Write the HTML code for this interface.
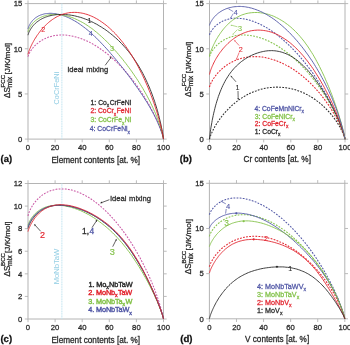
<!DOCTYPE html>
<html><head><meta charset="utf-8"><style>
html,body{margin:0;padding:0;background:#fff;}
body{width:350px;height:345px;overflow:hidden;font-family:"Liberation Sans", sans-serif;}
svg{display:block;will-change:transform;}
</style></head><body>
<svg width="350" height="345" viewBox="0 0 350 345" font-family='"Liberation Sans", sans-serif'><rect x="28" y="3.6" width="135.50" height="135.50" fill="none" stroke="#b4b4b4" stroke-width="1.0"/>
<line x1="28.00" y1="139.10" x2="28.00" y2="142.30" stroke="#b4b4b4" stroke-width="0.9" />
<line x1="28.00" y1="3.60" x2="28.00" y2="0.40" stroke="#b4b4b4" stroke-width="0.9" />
<text x="28.00" y="150.20" font-size="7.7" fill="#2a2a2a" stroke="#2a2a2a" stroke-width="0.27" text-anchor="middle" font-weight="normal" >0</text>
<line x1="55.10" y1="139.10" x2="55.10" y2="142.30" stroke="#b4b4b4" stroke-width="0.9" />
<line x1="55.10" y1="3.60" x2="55.10" y2="0.40" stroke="#b4b4b4" stroke-width="0.9" />
<text x="55.10" y="150.20" font-size="7.7" fill="#2a2a2a" stroke="#2a2a2a" stroke-width="0.27" text-anchor="middle" font-weight="normal" >20</text>
<line x1="82.20" y1="139.10" x2="82.20" y2="142.30" stroke="#b4b4b4" stroke-width="0.9" />
<line x1="82.20" y1="3.60" x2="82.20" y2="0.40" stroke="#b4b4b4" stroke-width="0.9" />
<text x="82.20" y="150.20" font-size="7.7" fill="#2a2a2a" stroke="#2a2a2a" stroke-width="0.27" text-anchor="middle" font-weight="normal" >40</text>
<line x1="109.30" y1="139.10" x2="109.30" y2="142.30" stroke="#b4b4b4" stroke-width="0.9" />
<line x1="109.30" y1="3.60" x2="109.30" y2="0.40" stroke="#b4b4b4" stroke-width="0.9" />
<text x="109.30" y="150.20" font-size="7.7" fill="#2a2a2a" stroke="#2a2a2a" stroke-width="0.27" text-anchor="middle" font-weight="normal" >60</text>
<line x1="136.40" y1="139.10" x2="136.40" y2="142.30" stroke="#b4b4b4" stroke-width="0.9" />
<line x1="136.40" y1="3.60" x2="136.40" y2="0.40" stroke="#b4b4b4" stroke-width="0.9" />
<text x="136.40" y="150.20" font-size="7.7" fill="#2a2a2a" stroke="#2a2a2a" stroke-width="0.27" text-anchor="middle" font-weight="normal" >80</text>
<line x1="163.50" y1="139.10" x2="163.50" y2="142.30" stroke="#b4b4b4" stroke-width="0.9" />
<line x1="163.50" y1="3.60" x2="163.50" y2="0.40" stroke="#b4b4b4" stroke-width="0.9" />
<text x="163.50" y="150.20" font-size="7.7" fill="#2a2a2a" stroke="#2a2a2a" stroke-width="0.27" text-anchor="middle" font-weight="normal" >100</text>
<line x1="24.80" y1="139.10" x2="28.00" y2="139.10" stroke="#b4b4b4" stroke-width="0.9" />
<line x1="163.50" y1="139.10" x2="166.70" y2="139.10" stroke="#b4b4b4" stroke-width="0.9" />
<text x="22.40" y="141.85" font-size="7.7" fill="#2a2a2a" stroke="#2a2a2a" stroke-width="0.27" text-anchor="end" font-weight="normal" >0</text>
<line x1="24.80" y1="93.93" x2="28.00" y2="93.93" stroke="#b4b4b4" stroke-width="0.9" />
<line x1="163.50" y1="93.93" x2="166.70" y2="93.93" stroke="#b4b4b4" stroke-width="0.9" />
<text x="22.40" y="96.68" font-size="7.7" fill="#2a2a2a" stroke="#2a2a2a" stroke-width="0.27" text-anchor="end" font-weight="normal" >5</text>
<line x1="24.80" y1="48.77" x2="28.00" y2="48.77" stroke="#b4b4b4" stroke-width="0.9" />
<line x1="163.50" y1="48.77" x2="166.70" y2="48.77" stroke="#b4b4b4" stroke-width="0.9" />
<text x="22.40" y="51.52" font-size="7.7" fill="#2a2a2a" stroke="#2a2a2a" stroke-width="0.27" text-anchor="end" font-weight="normal" >10</text>
<line x1="24.80" y1="3.60" x2="28.00" y2="3.60" stroke="#b4b4b4" stroke-width="0.9" />
<line x1="163.50" y1="3.60" x2="166.70" y2="3.60" stroke="#b4b4b4" stroke-width="0.9" />
<text x="22.40" y="6.35" font-size="7.7" fill="#2a2a2a" stroke="#2a2a2a" stroke-width="0.27" text-anchor="end" font-weight="normal" >15</text>
<text x="95.75" y="162.60" font-size="8.2" fill="#2a2a2a" stroke="#2a2a2a" stroke-width="0.27" text-anchor="middle" font-weight="normal" >Element contents [at. %]</text>
<line x1="61.88" y1="3.60" x2="61.88" y2="139.10" stroke="#c2e4f0" stroke-width="1.0" stroke-dasharray="1.2 0.5"/>
<text transform="translate(59.20,104.50) rotate(-90)" font-size="7.4" fill="#98d0e5" stroke="#98d0e5" stroke-width="0.05">CoCrFeNi</text>
<path d="M28.0,56.6 L28.0,56.5 L28.1,56.3 L28.2,56.0 L28.3,55.6 L28.5,55.1 L28.7,54.6 L28.9,54.1 L29.2,53.5 L29.5,52.9 L29.9,52.2 L30.3,51.6 L30.7,50.9 L31.2,50.2 L31.7,49.5 L32.2,48.8 L32.8,48.0 L33.4,47.3 L34.0,46.6 L34.7,45.9 L35.4,45.2 L36.2,44.5 L36.9,43.8 L37.8,43.1 L38.6,42.4 L39.5,41.8 L40.4,41.2 L41.3,40.6 L42.3,40.0 L43.3,39.4 L44.3,38.9 L45.4,38.4 L46.5,37.9 L47.6,37.5 L48.7,37.1 L49.9,36.7 L51.1,36.4 L52.3,36.1 L53.5,35.8 L54.8,35.6 L56.1,35.4 L57.4,35.2 L58.7,35.1 L60.0,35.0 L61.4,35.0 L62.8,35.0 L64.2,35.0 L65.6,35.1 L67.1,35.3 L68.5,35.4 L70.0,35.7 L71.5,35.9 L73.0,36.3 L74.5,36.6 L76.0,37.0 L77.6,37.5 L79.1,37.9 L80.7,38.5 L82.2,39.1 L83.8,39.7 L85.4,40.4 L87.0,41.1 L88.6,41.8 L90.2,42.6 L91.8,43.5 L93.4,44.4 L94.9,45.3 L96.6,46.3 L98.1,47.3 L99.7,48.4 L101.3,49.5 L102.9,50.6 L104.5,51.8 L106.1,53.0 L107.7,54.2 L109.3,55.5 L110.8,56.8 L112.4,58.2 L113.9,59.6 L115.5,61.0 L117.0,62.5 L118.5,64.0 L120.0,65.5 L121.5,67.0 L123.0,68.6 L124.4,70.2 L125.9,71.8 L127.3,73.5 L128.7,75.1 L130.1,76.8 L131.5,78.5 L132.8,80.2 L134.1,82.0 L135.4,83.7 L136.7,85.5 L138.0,87.2 L139.2,89.0 L140.4,90.8 L141.6,92.6 L142.8,94.4 L143.9,96.2 L145.0,98.0 L146.1,99.8 L147.2,101.6 L148.2,103.3 L149.2,105.1 L150.2,106.9 L151.1,108.6 L152.0,110.3 L152.9,112.0 L153.7,113.7 L154.6,115.4 L155.3,117.0 L156.1,118.6 L156.8,120.2 L157.5,121.8 L158.1,123.3 L158.7,124.7 L159.3,126.1 L159.8,127.5 L160.3,128.8 L160.8,130.1 L161.2,131.3 L161.6,132.5 L162.0,133.5 L162.3,134.5 L162.6,135.5 L162.8,136.3 L163.0,137.1 L163.2,137.7 L163.3,138.3 L163.4,138.7 L163.5,139.0 L163.5,139.1" fill="none" stroke="#ca5aa6" stroke-width="1.05" stroke-dasharray="1.8 1.3"/>
<path d="M28.0,29.0 L28.0,28.9 L28.1,28.6 L28.2,28.3 L28.3,27.8 L28.5,27.3 L28.7,26.8 L28.9,26.2 L29.2,25.6 L29.5,24.9 L29.9,24.3 L30.3,23.6 L30.7,22.9 L31.2,22.3 L31.7,21.6 L32.2,20.9 L32.8,20.3 L33.4,19.7 L34.0,19.1 L34.7,18.5 L35.4,17.9 L36.2,17.4 L36.9,16.9 L37.8,16.4 L38.6,15.9 L39.5,15.5 L40.4,15.1 L41.3,14.8 L42.3,14.5 L43.3,14.2 L44.3,13.9 L45.4,13.7 L46.5,13.6 L47.6,13.5 L48.7,13.4 L49.9,13.3 L51.1,13.3 L52.3,13.4 L53.5,13.5 L54.8,13.6 L56.1,13.8 L57.4,14.1 L58.7,14.3 L60.0,14.7 L61.4,15.0 L62.8,15.5 L64.2,16.0 L65.6,16.5 L67.1,17.1 L68.5,17.7 L70.0,18.4 L71.5,19.2 L73.0,20.0 L74.5,20.8 L76.0,21.7 L77.6,22.7 L79.1,23.7 L80.7,24.8 L82.2,25.9 L83.8,27.1 L85.4,28.3 L87.0,29.6 L88.6,30.9 L90.2,32.3 L91.8,33.7 L93.4,35.2 L94.9,36.7 L96.6,38.2 L98.1,39.8 L99.7,41.4 L101.3,43.1 L102.9,44.8 L104.5,46.5 L106.1,48.2 L107.7,50.0 L109.3,51.8 L110.8,53.6 L112.4,55.4 L113.9,57.2 L115.5,59.1 L117.0,60.9 L118.5,62.8 L120.0,64.7 L121.5,66.5 L123.0,68.4 L124.4,70.3 L125.9,72.2 L127.3,74.0 L128.7,75.9 L130.1,77.7 L131.5,79.6 L132.8,81.4 L134.1,83.3 L135.4,85.1 L136.7,86.9 L138.0,88.7 L139.2,90.5 L140.4,92.3 L141.6,94.0 L142.8,95.8 L143.9,97.6 L145.0,99.3 L146.1,101.0 L147.2,102.7 L148.2,104.4 L149.2,106.1 L150.2,107.8 L151.1,109.4 L152.0,111.1 L152.9,112.7 L153.7,114.3 L154.6,115.9 L155.3,117.4 L156.1,118.9 L156.8,120.5 L157.5,121.9 L158.1,123.4 L158.7,124.8 L159.3,126.2 L159.8,127.5 L160.3,128.8 L160.8,130.1 L161.2,131.3 L161.6,132.4 L162.0,133.5 L162.3,134.5 L162.6,135.4 L162.8,136.3 L163.0,137.0 L163.2,137.7 L163.3,138.3 L163.4,138.7 L163.5,139.0 L163.5,139.1" fill="none" stroke="#5157a6" stroke-width="0.9"/>
<path d="M28.0,32.0 L28.0,31.9 L28.1,31.6 L28.2,31.3 L28.3,30.8 L28.5,30.3 L28.7,29.8 L28.9,29.2 L29.2,28.6 L29.5,27.9 L29.9,27.3 L30.3,26.6 L30.7,25.9 L31.2,25.2 L31.7,24.5 L32.2,23.9 L32.8,23.2 L33.4,22.5 L34.0,21.9 L34.7,21.3 L35.4,20.7 L36.2,20.1 L36.9,19.5 L37.8,19.0 L38.6,18.5 L39.5,18.0 L40.4,17.5 L41.3,17.1 L42.3,16.7 L43.3,16.3 L44.3,16.0 L45.4,15.7 L46.5,15.4 L47.6,15.1 L48.7,14.9 L49.9,14.7 L51.1,14.6 L52.3,14.5 L53.5,14.4 L54.8,14.4 L56.1,14.4 L57.4,14.5 L58.7,14.6 L60.0,14.7 L61.4,14.9 L62.8,15.1 L64.2,15.4 L65.6,15.7 L67.1,16.0 L68.5,16.4 L70.0,16.9 L71.5,17.4 L73.0,17.9 L74.5,18.5 L76.0,19.2 L77.6,19.9 L79.1,20.7 L80.7,21.5 L82.2,22.3 L83.8,23.2 L85.4,24.2 L87.0,25.2 L88.6,26.3 L90.2,27.4 L91.8,28.5 L93.4,29.7 L94.9,31.0 L96.6,32.3 L98.1,33.6 L99.7,35.0 L101.3,36.4 L102.9,37.9 L104.5,39.4 L106.1,41.0 L107.7,42.5 L109.3,44.1 L110.8,45.8 L112.4,47.5 L113.9,49.2 L115.5,50.9 L117.0,52.6 L118.5,54.4 L120.0,56.2 L121.5,58.0 L123.0,59.8 L124.4,61.7 L125.9,63.5 L127.3,65.4 L128.7,67.3 L130.1,69.2 L131.5,71.1 L132.8,73.0 L134.1,74.9 L135.4,76.8 L136.7,78.7 L138.0,80.7 L139.2,82.6 L140.4,84.5 L141.6,86.5 L142.8,88.4 L143.9,90.4 L145.0,92.3 L146.1,94.2 L147.2,96.2 L148.2,98.1 L149.2,100.0 L150.2,101.9 L151.1,103.9 L152.0,105.8 L152.9,107.6 L153.7,109.5 L154.6,111.4 L155.3,113.2 L156.1,115.0 L156.8,116.8 L157.5,118.6 L158.1,120.3 L158.7,122.0 L159.3,123.6 L159.8,125.2 L160.3,126.8 L160.8,128.3 L161.2,129.7 L161.6,131.1 L162.0,132.4 L162.3,133.6 L162.6,134.7 L162.8,135.7 L163.0,136.6 L163.2,137.4 L163.3,138.1 L163.4,138.6 L163.5,139.0 L163.5,139.1" fill="none" stroke="#84c24a" stroke-width="0.9"/>
<path d="M28.0,35.2 L28.0,35.1 L28.1,34.9 L28.2,34.5 L28.3,34.1 L28.5,33.6 L28.7,33.0 L28.9,32.4 L29.2,31.8 L29.5,31.1 L29.9,30.4 L30.3,29.7 L30.7,29.0 L31.2,28.3 L31.7,27.5 L32.2,26.8 L32.8,26.1 L33.4,25.4 L34.0,24.7 L34.7,24.0 L35.4,23.3 L36.2,22.6 L36.9,22.0 L37.8,21.4 L38.6,20.8 L39.5,20.2 L40.4,19.6 L41.3,19.1 L42.3,18.6 L43.3,18.1 L44.3,17.7 L45.4,17.2 L46.5,16.8 L47.6,16.5 L48.7,16.1 L49.9,15.8 L51.1,15.5 L52.3,15.3 L53.5,15.1 L54.8,14.9 L56.1,14.7 L57.4,14.6 L58.7,14.5 L60.0,14.5 L61.4,14.4 L62.8,14.5 L64.2,14.5 L65.6,14.6 L67.1,14.7 L68.5,14.9 L70.0,15.0 L71.5,15.3 L73.0,15.5 L74.5,15.8 L76.0,16.2 L77.6,16.6 L79.1,17.0 L80.7,17.4 L82.2,17.9 L83.8,18.5 L85.4,19.1 L87.0,19.7 L88.6,20.3 L90.2,21.0 L91.8,21.8 L93.4,22.5 L94.9,23.4 L96.6,24.2 L98.1,25.1 L99.7,26.1 L101.3,27.0 L102.9,28.1 L104.5,29.1 L106.1,30.2 L107.7,31.4 L109.3,32.6 L110.8,33.8 L112.4,35.1 L113.9,36.4 L115.5,37.7 L117.0,39.1 L118.5,40.5 L120.0,42.0 L121.5,43.5 L123.0,45.1 L124.4,46.7 L125.9,48.3 L127.3,50.0 L128.7,51.7 L130.1,53.5 L131.5,55.3 L132.8,57.2 L134.1,59.0 L135.4,61.0 L136.7,62.9 L138.0,65.0 L139.2,67.0 L140.4,69.1 L141.6,71.2 L142.8,73.4 L143.9,75.6 L145.0,77.8 L146.1,80.1 L147.2,82.4 L148.2,84.7 L149.2,87.0 L150.2,89.4 L151.1,91.7 L152.0,94.1 L152.9,96.5 L153.7,98.9 L154.6,101.3 L155.3,103.7 L156.1,106.1 L156.8,108.5 L157.5,110.8 L158.1,113.2 L158.7,115.4 L159.3,117.7 L159.8,119.9 L160.3,122.0 L160.8,124.0 L161.2,126.0 L161.6,127.9 L162.0,129.7 L162.3,131.4 L162.6,132.9 L162.8,134.4 L163.0,135.6 L163.2,136.8 L163.3,137.7 L163.4,138.4 L163.5,138.9 L163.5,139.1" fill="none" stroke="#2b2b2b" stroke-width="0.9"/>
<path d="M28.0,54.4 L28.0,54.2 L28.1,54.0 L28.2,53.6 L28.3,53.1 L28.5,52.6 L28.7,51.9 L28.9,51.2 L29.2,50.5 L29.5,49.6 L29.9,48.7 L30.3,47.8 L30.7,46.8 L31.2,45.8 L31.7,44.8 L32.2,43.7 L32.8,42.6 L33.4,41.5 L34.0,40.4 L34.7,39.2 L35.4,38.1 L36.2,36.9 L36.9,35.7 L37.8,34.5 L38.6,33.4 L39.5,32.2 L40.4,31.0 L41.3,29.9 L42.3,28.7 L43.3,27.6 L44.3,26.5 L45.4,25.4 L46.5,24.4 L47.6,23.4 L48.7,22.4 L49.9,21.4 L51.1,20.5 L52.3,19.6 L53.5,18.8 L54.8,18.0 L56.1,17.2 L57.4,16.5 L58.7,15.9 L60.0,15.3 L61.4,14.7 L62.8,14.2 L64.2,13.8 L65.6,13.4 L67.1,13.1 L68.5,12.8 L70.0,12.6 L71.5,12.5 L73.0,12.4 L74.5,12.4 L76.0,12.4 L77.6,12.5 L79.1,12.7 L80.7,12.9 L82.2,13.2 L83.8,13.5 L85.4,14.0 L87.0,14.4 L88.6,15.0 L90.2,15.6 L91.8,16.3 L93.4,17.0 L94.9,17.8 L96.6,18.7 L98.1,19.6 L99.7,20.6 L101.3,21.7 L102.9,22.8 L104.5,24.0 L106.1,25.2 L107.7,26.5 L109.3,27.9 L110.8,29.3 L112.4,30.8 L113.9,32.3 L115.5,33.9 L117.0,35.6 L118.5,37.3 L120.0,39.0 L121.5,40.9 L123.0,42.7 L124.4,44.6 L125.9,46.6 L127.3,48.6 L128.7,50.7 L130.1,52.8 L131.5,55.0 L132.8,57.1 L134.1,59.4 L135.4,61.6 L136.7,63.9 L138.0,66.3 L139.2,68.6 L140.4,71.0 L141.6,73.4 L142.8,75.8 L143.9,78.2 L145.0,80.7 L146.1,83.1 L147.2,85.6 L148.2,88.0 L149.2,90.5 L150.2,92.9 L151.1,95.4 L152.0,97.8 L152.9,100.2 L153.7,102.6 L154.6,105.0 L155.3,107.3 L156.1,109.6 L156.8,111.8 L157.5,114.0 L158.1,116.2 L158.7,118.3 L159.3,120.3 L159.8,122.3 L160.3,124.2 L160.8,126.1 L161.2,127.8 L161.6,129.5 L162.0,131.0 L162.3,132.5 L162.6,133.8 L162.8,135.1 L163.0,136.2 L163.2,137.1 L163.3,137.9 L163.4,138.5 L163.5,138.9 L163.5,139.1" fill="none" stroke="#e2252f" stroke-width="0.9"/>
<text x="67.50" y="71.90" font-size="7.6" fill="#2a2a2a" stroke="#2a2a2a" stroke-width="0.27" text-anchor="start" font-weight="normal" word-spacing="0.6">ideal mixing</text>
<line x1="105.20" y1="65.30" x2="110.30" y2="58.37" stroke="#231f20" stroke-width="0.7"/>
<path d="M111.60,56.60 L111.02,58.91 L109.57,57.84 Z" fill="#231f20"/>
<text x="89.50" y="23.20" font-size="7.2" fill="#2b2b2b" stroke="#2b2b2b" stroke-width="0.1" text-anchor="middle" font-weight="normal" >1</text>
<text x="43.20" y="32.00" font-size="7.2" fill="#e2252f" stroke="#e2252f" stroke-width="0.1" text-anchor="middle" font-weight="normal" >2</text>
<text x="112.00" y="50.60" font-size="7.2" fill="#84c24a" stroke="#84c24a" stroke-width="0.1" text-anchor="middle" font-weight="normal" >3</text>
<text x="90.80" y="36.20" font-size="7.2" fill="#5157a6" stroke="#5157a6" stroke-width="0.1" text-anchor="middle" font-weight="normal" >4</text>
<text x="90.6" y="104.5" font-size="6.8" fill="#2b2b2b" stroke="#2b2b2b" stroke-width="0.27" letter-spacing="0" font-weight="normal"><tspan>1: Co</tspan><tspan font-size="4.90" dy="2.2">x</tspan><tspan dy="-2.2" dx="0.35">CrFeNi</tspan></text>
<text x="90.4" y="113.4" font-size="6.8" fill="#e2252f" stroke="#e2252f" stroke-width="0.27" letter-spacing="0" font-weight="normal"><tspan>2: CoCr</tspan><tspan font-size="4.90" dy="2.2">x</tspan><tspan dy="-2.2" dx="0.35">FeNi</tspan></text>
<text x="90.6" y="122.4" font-size="6.8" fill="#84c24a" stroke="#84c24a" stroke-width="0.27" letter-spacing="0" font-weight="normal"><tspan>3: CoCrFe</tspan><tspan font-size="4.90" dy="2.2">x</tspan><tspan dy="-2.2" dx="0.35">Ni</tspan></text>
<text x="89.8" y="131.3" font-size="6.8" fill="#5157a6" stroke="#5157a6" stroke-width="0.27" letter-spacing="0" font-weight="normal"><tspan>4: CoCrFeNi</tspan><tspan font-size="4.90" dy="2.2">x</tspan></text>
<text transform="translate(9.80,98.00) rotate(-90)" font-size="8.2" fill="#2a2a2a" stroke="#2a2a2a" stroke-width="0.27">ΔS</text>
<text transform="translate(5.20,87.40) rotate(-90)" font-size="6.1" fill="#2a2a2a" stroke="#2a2a2a" stroke-width="0.27">FCC</text>
<text transform="translate(11.90,87.40) rotate(-90)" font-size="6.8" fill="#2a2a2a" stroke="#2a2a2a" stroke-width="0.27">mix</text>
<text transform="translate(9.80,74.40) rotate(-90)" font-size="8.1" fill="#2a2a2a" stroke="#2a2a2a" stroke-width="0.27">[J/K/mol]</text>
<text x="0.60" y="162.00" font-size="9.4" fill="#111" stroke="#111" stroke-width="0.27" text-anchor="start" font-weight="bold" >(a)</text>
<rect x="209.5" y="3.6" width="135.50" height="135.60" fill="none" stroke="#b4b4b4" stroke-width="1.0"/>
<line x1="209.50" y1="139.20" x2="209.50" y2="142.40" stroke="#b4b4b4" stroke-width="0.9" />
<line x1="209.50" y1="3.60" x2="209.50" y2="0.40" stroke="#b4b4b4" stroke-width="0.9" />
<text x="209.50" y="150.30" font-size="7.7" fill="#2a2a2a" stroke="#2a2a2a" stroke-width="0.27" text-anchor="middle" font-weight="normal" >0</text>
<line x1="236.60" y1="139.20" x2="236.60" y2="142.40" stroke="#b4b4b4" stroke-width="0.9" />
<line x1="236.60" y1="3.60" x2="236.60" y2="0.40" stroke="#b4b4b4" stroke-width="0.9" />
<text x="236.60" y="150.30" font-size="7.7" fill="#2a2a2a" stroke="#2a2a2a" stroke-width="0.27" text-anchor="middle" font-weight="normal" >20</text>
<line x1="263.70" y1="139.20" x2="263.70" y2="142.40" stroke="#b4b4b4" stroke-width="0.9" />
<line x1="263.70" y1="3.60" x2="263.70" y2="0.40" stroke="#b4b4b4" stroke-width="0.9" />
<text x="263.70" y="150.30" font-size="7.7" fill="#2a2a2a" stroke="#2a2a2a" stroke-width="0.27" text-anchor="middle" font-weight="normal" >40</text>
<line x1="290.80" y1="139.20" x2="290.80" y2="142.40" stroke="#b4b4b4" stroke-width="0.9" />
<line x1="290.80" y1="3.60" x2="290.80" y2="0.40" stroke="#b4b4b4" stroke-width="0.9" />
<text x="290.80" y="150.30" font-size="7.7" fill="#2a2a2a" stroke="#2a2a2a" stroke-width="0.27" text-anchor="middle" font-weight="normal" >60</text>
<line x1="317.90" y1="139.20" x2="317.90" y2="142.40" stroke="#b4b4b4" stroke-width="0.9" />
<line x1="317.90" y1="3.60" x2="317.90" y2="0.40" stroke="#b4b4b4" stroke-width="0.9" />
<text x="317.90" y="150.30" font-size="7.7" fill="#2a2a2a" stroke="#2a2a2a" stroke-width="0.27" text-anchor="middle" font-weight="normal" >80</text>
<line x1="345.00" y1="139.20" x2="345.00" y2="142.40" stroke="#b4b4b4" stroke-width="0.9" />
<line x1="345.00" y1="3.60" x2="345.00" y2="0.40" stroke="#b4b4b4" stroke-width="0.9" />
<text x="345.00" y="150.30" font-size="7.7" fill="#2a2a2a" stroke="#2a2a2a" stroke-width="0.27" text-anchor="middle" font-weight="normal" >100</text>
<line x1="206.30" y1="139.20" x2="209.50" y2="139.20" stroke="#b4b4b4" stroke-width="0.9" />
<line x1="345.00" y1="139.20" x2="348.20" y2="139.20" stroke="#b4b4b4" stroke-width="0.9" />
<text x="203.90" y="141.95" font-size="7.7" fill="#2a2a2a" stroke="#2a2a2a" stroke-width="0.27" text-anchor="end" font-weight="normal" >0</text>
<line x1="206.30" y1="94.00" x2="209.50" y2="94.00" stroke="#b4b4b4" stroke-width="0.9" />
<line x1="345.00" y1="94.00" x2="348.20" y2="94.00" stroke="#b4b4b4" stroke-width="0.9" />
<text x="203.90" y="96.75" font-size="7.7" fill="#2a2a2a" stroke="#2a2a2a" stroke-width="0.27" text-anchor="end" font-weight="normal" >5</text>
<line x1="206.30" y1="48.80" x2="209.50" y2="48.80" stroke="#b4b4b4" stroke-width="0.9" />
<line x1="345.00" y1="48.80" x2="348.20" y2="48.80" stroke="#b4b4b4" stroke-width="0.9" />
<text x="203.90" y="51.55" font-size="7.7" fill="#2a2a2a" stroke="#2a2a2a" stroke-width="0.27" text-anchor="end" font-weight="normal" >10</text>
<line x1="206.30" y1="3.60" x2="209.50" y2="3.60" stroke="#b4b4b4" stroke-width="0.9" />
<line x1="345.00" y1="3.60" x2="348.20" y2="3.60" stroke="#b4b4b4" stroke-width="0.9" />
<text x="203.90" y="6.35" font-size="7.7" fill="#2a2a2a" stroke="#2a2a2a" stroke-width="0.27" text-anchor="end" font-weight="normal" >15</text>
<text x="277.25" y="161.50" font-size="8.2" fill="#2a2a2a" stroke="#2a2a2a" stroke-width="0.27" text-anchor="middle" font-weight="normal" >Cr contents [at. %]</text>
<path d="M209.5,139.2 L209.5,139.1 L209.6,138.8 L209.7,138.5 L209.8,138.0 L210.0,137.5 L210.2,136.8 L210.4,136.1 L210.7,135.4 L211.0,134.6 L211.4,133.7 L211.8,132.8 L212.2,131.8 L212.7,130.9 L213.2,129.8 L213.7,128.8 L214.3,127.7 L214.9,126.6 L215.5,125.5 L216.2,124.4 L216.9,123.2 L217.7,122.1 L218.4,120.9 L219.3,119.8 L220.1,118.6 L221.0,117.4 L221.9,116.2 L222.8,115.1 L223.8,113.9 L224.8,112.7 L225.8,111.6 L226.9,110.4 L228.0,109.3 L229.1,108.2 L230.2,107.1 L231.4,106.0 L232.6,104.9 L233.8,103.9 L235.0,102.8 L236.3,101.8 L237.6,100.9 L238.9,99.9 L240.2,99.0 L241.5,98.1 L242.9,97.2 L244.3,96.4 L245.7,95.6 L247.1,94.8 L248.6,94.1 L250.0,93.3 L251.5,92.7 L253.0,92.0 L254.5,91.4 L256.0,90.9 L257.5,90.3 L259.1,89.8 L260.6,89.4 L262.2,89.0 L263.7,88.6 L265.3,88.3 L266.9,88.0 L268.5,87.7 L270.1,87.5 L271.7,87.4 L273.3,87.2 L274.9,87.2 L276.4,87.1 L278.1,87.1 L279.6,87.2 L281.2,87.2 L282.8,87.4 L284.4,87.5 L286.0,87.7 L287.6,88.0 L289.2,88.3 L290.8,88.6 L292.3,89.0 L293.9,89.4 L295.4,89.8 L297.0,90.3 L298.5,90.9 L300.0,91.4 L301.5,92.0 L303.0,92.7 L304.5,93.3 L305.9,94.1 L307.4,94.8 L308.8,95.6 L310.2,96.4 L311.6,97.2 L313.0,98.1 L314.3,99.0 L315.6,99.9 L316.9,100.9 L318.2,101.8 L319.5,102.8 L320.7,103.9 L321.9,104.9 L323.1,106.0 L324.3,107.1 L325.4,108.2 L326.5,109.3 L327.6,110.4 L328.7,111.6 L329.7,112.7 L330.7,113.9 L331.7,115.1 L332.6,116.2 L333.5,117.4 L334.4,118.6 L335.2,119.8 L336.1,120.9 L336.8,122.1 L337.6,123.2 L338.3,124.4 L339.0,125.5 L339.6,126.6 L340.2,127.7 L340.8,128.8 L341.3,129.8 L341.8,130.9 L342.3,131.8 L342.7,132.8 L343.1,133.7 L343.5,134.6 L343.8,135.4 L344.1,136.1 L344.3,136.8 L344.5,137.5 L344.7,138.0 L344.8,138.5 L344.9,138.8 L345.0,139.1 L345.0,139.2" fill="none" stroke="#2b2b2b" stroke-width="1.05" stroke-dasharray="1.8 1.3"/>
<path d="M209.5,87.1 L209.5,87.0 L209.6,86.8 L209.7,86.4 L209.8,86.0 L210.0,85.5 L210.2,85.0 L210.4,84.4 L210.7,83.7 L211.0,83.1 L211.4,82.3 L211.8,81.6 L212.2,80.8 L212.7,80.0 L213.2,79.2 L213.7,78.3 L214.3,77.5 L214.9,76.6 L215.5,75.7 L216.2,74.9 L216.9,74.0 L217.7,73.1 L218.4,72.3 L219.3,71.4 L220.1,70.6 L221.0,69.7 L221.9,68.9 L222.8,68.1 L223.8,67.3 L224.8,66.5 L225.8,65.7 L226.9,65.0 L228.0,64.3 L229.1,63.6 L230.2,62.9 L231.4,62.3 L232.6,61.7 L233.8,61.1 L235.0,60.6 L236.3,60.0 L237.6,59.6 L238.9,59.1 L240.2,58.7 L241.5,58.3 L242.9,58.0 L244.3,57.7 L245.7,57.4 L247.1,57.2 L248.6,57.0 L250.0,56.8 L251.5,56.7 L253.0,56.7 L254.5,56.6 L256.0,56.6 L257.5,56.7 L259.1,56.8 L260.6,56.9 L262.2,57.1 L263.7,57.4 L265.3,57.6 L266.9,58.0 L268.5,58.3 L270.1,58.7 L271.7,59.2 L273.3,59.6 L274.9,60.2 L276.4,60.8 L278.1,61.4 L279.6,62.0 L281.2,62.7 L282.8,63.5 L284.4,64.2 L286.0,65.1 L287.6,65.9 L289.2,66.8 L290.8,67.8 L292.3,68.7 L293.9,69.7 L295.4,70.8 L297.0,71.9 L298.5,73.0 L300.0,74.1 L301.5,75.3 L303.0,76.5 L304.5,77.8 L305.9,79.0 L307.4,80.3 L308.8,81.6 L310.2,83.0 L311.6,84.4 L313.0,85.8 L314.3,87.2 L315.6,88.6 L316.9,90.1 L318.2,91.6 L319.5,93.0 L320.7,94.5 L321.9,96.1 L323.1,97.6 L324.3,99.1 L325.4,100.7 L326.5,102.2 L327.6,103.7 L328.7,105.3 L329.7,106.8 L330.7,108.4 L331.7,109.9 L332.6,111.5 L333.5,113.0 L334.4,114.5 L335.2,116.0 L336.1,117.5 L336.8,118.9 L337.6,120.4 L338.3,121.8 L339.0,123.2 L339.6,124.6 L340.2,125.9 L340.8,127.2 L341.3,128.4 L341.8,129.6 L342.3,130.8 L342.7,131.9 L343.1,133.0 L343.5,134.0 L343.8,134.9 L344.1,135.8 L344.3,136.6 L344.5,137.3 L344.7,137.9 L344.8,138.4 L344.9,138.8 L345.0,139.1 L345.0,139.2" fill="none" stroke="#e2252f" stroke-width="1.05" stroke-dasharray="1.8 1.3"/>
<path d="M209.5,56.6 L209.5,56.5 L209.6,56.3 L209.7,56.0 L209.8,55.6 L210.0,55.2 L210.2,54.7 L210.4,54.1 L210.7,53.5 L211.0,52.9 L211.4,52.3 L211.8,51.6 L212.2,50.9 L212.7,50.2 L213.2,49.5 L213.7,48.8 L214.3,48.1 L214.9,47.3 L215.5,46.6 L216.2,45.9 L216.9,45.2 L217.7,44.5 L218.4,43.8 L219.3,43.1 L220.1,42.5 L221.0,41.8 L221.9,41.2 L222.8,40.6 L223.8,40.0 L224.8,39.5 L225.8,38.9 L226.9,38.4 L228.0,38.0 L229.1,37.5 L230.2,37.1 L231.4,36.7 L232.6,36.4 L233.8,36.1 L235.0,35.8 L236.3,35.6 L237.6,35.4 L238.9,35.2 L240.2,35.1 L241.5,35.0 L242.9,35.0 L244.3,35.0 L245.7,35.1 L247.1,35.2 L248.6,35.3 L250.0,35.5 L251.5,35.7 L253.0,36.0 L254.5,36.3 L256.0,36.6 L257.5,37.0 L259.1,37.5 L260.6,38.0 L262.2,38.5 L263.7,39.1 L265.3,39.7 L266.9,40.4 L268.5,41.1 L270.1,41.9 L271.7,42.7 L273.3,43.5 L274.9,44.4 L276.4,45.3 L278.1,46.3 L279.6,47.3 L281.2,48.4 L282.8,49.5 L284.4,50.6 L286.0,51.8 L287.6,53.0 L289.2,54.3 L290.8,55.6 L292.3,56.9 L293.9,58.2 L295.4,59.6 L297.0,61.1 L298.5,62.5 L300.0,64.0 L301.5,65.5 L303.0,67.1 L304.5,68.6 L305.9,70.2 L307.4,71.9 L308.8,73.5 L310.2,75.2 L311.6,76.9 L313.0,78.6 L314.3,80.3 L315.6,82.0 L316.9,83.8 L318.2,85.5 L319.5,87.3 L320.7,89.1 L321.9,90.9 L323.1,92.7 L324.3,94.5 L325.4,96.3 L326.5,98.0 L327.6,99.8 L328.7,101.6 L329.7,103.4 L330.7,105.2 L331.7,106.9 L332.6,108.7 L333.5,110.4 L334.4,112.1 L335.2,113.8 L336.1,115.5 L336.8,117.1 L337.6,118.7 L338.3,120.3 L339.0,121.8 L339.6,123.3 L340.2,124.8 L340.8,126.2 L341.3,127.6 L341.8,128.9 L342.3,130.2 L342.7,131.4 L343.1,132.6 L343.5,133.6 L343.8,134.6 L344.1,135.6 L344.3,136.4 L344.5,137.2 L344.7,137.8 L344.8,138.4 L344.9,138.8 L345.0,139.1 L345.0,139.2" fill="none" stroke="#84c24a" stroke-width="1.05" stroke-dasharray="1.8 1.3"/>
<path d="M209.5,35.0 L209.5,34.9 L209.6,34.7 L209.7,34.4 L209.8,34.0 L210.0,33.6 L210.2,33.2 L210.4,32.7 L210.7,32.1 L211.0,31.5 L211.4,31.0 L211.8,30.4 L212.2,29.7 L212.7,29.1 L213.2,28.5 L213.7,27.8 L214.3,27.2 L214.9,26.6 L215.5,26.0 L216.2,25.4 L216.9,24.8 L217.7,24.2 L218.4,23.6 L219.3,23.1 L220.1,22.5 L221.0,22.0 L221.9,21.6 L222.8,21.1 L223.8,20.7 L224.8,20.3 L225.8,19.9 L226.9,19.6 L228.0,19.3 L229.1,19.0 L230.2,18.8 L231.4,18.6 L232.6,18.5 L233.8,18.3 L235.0,18.3 L236.3,18.2 L237.6,18.2 L238.9,18.3 L240.2,18.4 L241.5,18.5 L242.9,18.7 L244.3,18.9 L245.7,19.2 L247.1,19.5 L248.6,19.9 L250.0,20.3 L251.5,20.8 L253.0,21.3 L254.5,21.8 L256.0,22.4 L257.5,23.1 L259.1,23.8 L260.6,24.5 L262.2,25.3 L263.7,26.1 L265.3,27.0 L266.9,27.9 L268.5,28.9 L270.1,29.9 L271.7,31.0 L273.3,32.1 L274.9,33.2 L276.4,34.4 L278.1,35.6 L279.6,36.9 L281.2,38.2 L282.8,39.6 L284.4,41.0 L286.0,42.4 L287.6,43.9 L289.2,45.4 L290.8,46.9 L292.3,48.5 L293.9,50.1 L295.4,51.7 L297.0,53.4 L298.5,55.1 L300.0,56.8 L301.5,58.6 L303.0,60.4 L304.5,62.2 L305.9,64.0 L307.4,65.9 L308.8,67.7 L310.2,69.6 L311.6,71.5 L313.0,73.4 L314.3,75.4 L315.6,77.3 L316.9,79.3 L318.2,81.3 L319.5,83.2 L320.7,85.2 L321.9,87.2 L323.1,89.2 L324.3,91.2 L325.4,93.1 L326.5,95.1 L327.6,97.1 L328.7,99.0 L329.7,101.0 L330.7,102.9 L331.7,104.8 L332.6,106.7 L333.5,108.6 L334.4,110.4 L335.2,112.3 L336.1,114.0 L336.8,115.8 L337.6,117.5 L338.3,119.2 L339.0,120.9 L339.6,122.5 L340.2,124.0 L340.8,125.6 L341.3,127.0 L341.8,128.4 L342.3,129.8 L342.7,131.0 L343.1,132.3 L343.5,133.4 L343.8,134.4 L344.1,135.4 L344.3,136.3 L344.5,137.1 L344.7,137.8 L344.8,138.3 L344.9,138.8 L345.0,139.1 L345.0,139.2" fill="none" stroke="#5157a6" stroke-width="1.05" stroke-dasharray="1.8 1.3"/>
<path d="M209.5,139.2 L209.5,138.9 L209.6,138.3 L209.7,137.3 L209.8,136.0 L210.0,134.6 L210.2,133.0 L210.4,131.1 L210.7,129.2 L211.0,127.1 L211.4,125.0 L211.8,122.7 L212.2,120.4 L212.7,118.0 L213.2,115.6 L213.7,113.2 L214.3,110.8 L214.9,108.3 L215.5,105.9 L216.2,103.5 L216.9,101.1 L217.7,98.7 L218.4,96.4 L219.3,94.1 L220.1,91.9 L221.0,89.7 L221.9,87.6 L222.8,85.6 L223.8,83.6 L224.8,81.7 L225.8,79.8 L226.9,78.1 L228.0,76.3 L229.1,74.7 L230.2,73.1 L231.4,71.6 L232.6,70.1 L233.8,68.7 L235.0,67.4 L236.3,66.1 L237.6,64.9 L238.9,63.7 L240.2,62.6 L241.5,61.5 L242.9,60.5 L244.3,59.5 L245.7,58.6 L247.1,57.7 L248.6,56.9 L250.0,56.1 L251.5,55.4 L253.0,54.7 L254.5,54.1 L256.0,53.5 L257.5,53.0 L259.1,52.5 L260.6,52.1 L262.2,51.7 L263.7,51.4 L265.3,51.1 L266.9,50.9 L268.5,50.7 L270.1,50.7 L271.7,50.6 L273.3,50.7 L274.9,50.8 L276.4,51.0 L278.1,51.3 L279.6,51.6 L281.2,52.0 L282.8,52.5 L284.4,53.1 L286.0,53.7 L287.6,54.4 L289.2,55.2 L290.8,56.1 L292.3,57.0 L293.9,58.0 L295.4,59.1 L297.0,60.2 L298.5,61.4 L300.0,62.7 L301.5,64.1 L303.0,65.4 L304.5,66.9 L305.9,68.4 L307.4,69.9 L308.8,71.5 L310.2,73.2 L311.6,74.8 L313.0,76.5 L314.3,78.3 L315.6,80.0 L316.9,81.8 L318.2,83.6 L319.5,85.5 L320.7,87.3 L321.9,89.1 L323.1,91.0 L324.3,92.9 L325.4,94.7 L326.5,96.6 L327.6,98.4 L328.7,100.3 L329.7,102.1 L330.7,103.9 L331.7,105.7 L332.6,107.5 L333.5,109.3 L334.4,111.0 L335.2,112.8 L336.1,114.5 L336.8,116.2 L337.6,117.8 L338.3,119.4 L339.0,121.0 L339.6,122.5 L340.2,124.0 L340.8,125.5 L341.3,126.9 L341.8,128.3 L342.3,129.6 L342.7,130.8 L343.1,132.0 L343.5,133.2 L343.8,134.2 L344.1,135.2 L344.3,136.1 L344.5,136.9 L344.7,137.7 L344.8,138.3 L344.9,138.7 L345.0,139.1 L345.0,139.2" fill="none" stroke="#2b2b2b" stroke-width="0.9"/>
<path d="M209.5,74.5 L209.5,74.4 L209.6,74.1 L209.7,73.7 L209.8,73.1 L210.0,72.5 L210.2,71.8 L210.4,71.0 L210.7,70.2 L211.0,69.3 L211.4,68.3 L211.8,67.3 L212.2,66.3 L212.7,65.3 L213.2,64.2 L213.7,63.0 L214.3,61.9 L214.9,60.7 L215.5,59.6 L216.2,58.4 L216.9,57.2 L217.7,56.0 L218.4,54.8 L219.3,53.6 L220.1,52.4 L221.0,51.3 L221.9,50.1 L222.8,48.9 L223.8,47.8 L224.8,46.7 L225.8,45.6 L226.9,44.5 L228.0,43.4 L229.1,42.4 L230.2,41.4 L231.4,40.4 L232.6,39.5 L233.8,38.6 L235.0,37.7 L236.3,36.9 L237.6,36.1 L238.9,35.3 L240.2,34.6 L241.5,34.0 L242.9,33.4 L244.3,32.8 L245.7,32.3 L247.1,31.8 L248.6,31.4 L250.0,31.0 L251.5,30.7 L253.0,30.5 L254.5,30.3 L256.0,30.2 L257.5,30.1 L259.1,30.1 L260.6,30.2 L262.2,30.3 L263.7,30.5 L265.3,30.7 L266.9,31.0 L268.5,31.4 L270.1,31.8 L271.7,32.3 L273.3,32.9 L274.9,33.5 L276.4,34.2 L278.1,35.0 L279.6,35.8 L281.2,36.7 L282.8,37.7 L284.4,38.7 L286.0,39.8 L287.6,40.9 L289.2,42.1 L290.8,43.4 L292.3,44.7 L293.9,46.1 L295.4,47.6 L297.0,49.1 L298.5,50.6 L300.0,52.2 L301.5,53.9 L303.0,55.6 L304.5,57.4 L305.9,59.2 L307.4,61.0 L308.8,62.9 L310.2,64.8 L311.6,66.7 L313.0,68.7 L314.3,70.7 L315.6,72.8 L316.9,74.8 L318.2,76.9 L319.5,79.0 L320.7,81.1 L321.9,83.2 L323.1,85.3 L324.3,87.4 L325.4,89.6 L326.5,91.7 L327.6,93.8 L328.7,95.9 L329.7,98.0 L330.7,100.1 L331.7,102.2 L332.6,104.2 L333.5,106.3 L334.4,108.2 L335.2,110.2 L336.1,112.1 L336.8,114.0 L337.6,115.9 L338.3,117.7 L339.0,119.5 L339.6,121.2 L340.2,122.9 L340.8,124.5 L341.3,126.1 L341.8,127.6 L342.3,129.0 L342.7,130.4 L343.1,131.7 L343.5,132.9 L343.8,134.0 L344.1,135.1 L344.3,136.0 L344.5,136.9 L344.7,137.6 L344.8,138.3 L344.9,138.7 L345.0,139.1 L345.0,139.2" fill="none" stroke="#e2252f" stroke-width="0.9"/>
<path d="M209.5,55.9 L209.5,55.7 L209.6,55.5 L209.7,55.1 L209.8,54.6 L210.0,54.0 L210.2,53.3 L210.4,52.6 L210.7,51.8 L211.0,50.9 L211.4,50.0 L211.8,49.0 L212.2,48.0 L212.7,46.9 L213.2,45.8 L213.7,44.6 L214.3,43.5 L214.9,42.3 L215.5,41.0 L216.2,39.8 L216.9,38.6 L217.7,37.3 L218.4,36.1 L219.3,34.8 L220.1,33.6 L221.0,32.3 L221.9,31.1 L222.8,29.9 L223.8,28.7 L224.8,27.5 L225.8,26.4 L226.9,25.3 L228.0,24.2 L229.1,23.1 L230.2,22.1 L231.4,21.2 L232.6,20.2 L233.8,19.4 L235.0,18.5 L236.3,17.8 L237.6,17.0 L238.9,16.3 L240.2,15.7 L241.5,15.1 L242.9,14.6 L244.3,14.2 L245.7,13.7 L247.1,13.4 L248.6,13.1 L250.0,12.9 L251.5,12.7 L253.0,12.6 L254.5,12.5 L256.0,12.5 L257.5,12.5 L259.1,12.6 L260.6,12.8 L262.2,13.0 L263.7,13.3 L265.3,13.6 L266.9,14.0 L268.5,14.4 L270.1,15.0 L271.7,15.5 L273.3,16.1 L274.9,16.8 L276.4,17.6 L278.1,18.4 L279.6,19.3 L281.2,20.2 L282.8,21.2 L284.4,22.2 L286.0,23.4 L287.6,24.5 L289.2,25.8 L290.8,27.1 L292.3,28.5 L293.9,29.9 L295.4,31.5 L297.0,33.0 L298.5,34.7 L300.0,36.4 L301.5,38.2 L303.0,40.0 L304.5,41.9 L305.9,43.9 L307.4,45.9 L308.8,48.0 L310.2,50.2 L311.6,52.4 L313.0,54.6 L314.3,56.9 L315.6,59.2 L316.9,61.6 L318.2,64.0 L319.5,66.5 L320.7,69.0 L321.9,71.5 L323.1,74.0 L324.3,76.5 L325.4,79.1 L326.5,81.7 L327.6,84.2 L328.7,86.8 L329.7,89.3 L330.7,91.9 L331.7,94.4 L332.6,96.9 L333.5,99.4 L334.4,101.8 L335.2,104.2 L336.1,106.6 L336.8,108.9 L337.6,111.2 L338.3,113.4 L339.0,115.6 L339.6,117.7 L340.2,119.7 L340.8,121.7 L341.3,123.6 L341.8,125.4 L342.3,127.1 L342.7,128.8 L343.1,130.3 L343.5,131.8 L343.8,133.1 L344.1,134.4 L344.3,135.5 L344.5,136.5 L344.7,137.4 L344.8,138.1 L344.9,138.7 L345.0,139.0 L345.0,139.2" fill="none" stroke="#84c24a" stroke-width="0.9"/>
<path d="M209.5,25.4 L209.5,25.3 L209.6,25.1 L209.7,24.7 L209.8,24.3 L210.0,23.9 L210.2,23.4 L210.4,22.8 L210.7,22.3 L211.0,21.7 L211.4,21.0 L211.8,20.4 L212.2,19.7 L212.7,19.1 L213.2,18.4 L213.7,17.7 L214.3,17.0 L214.9,16.3 L215.5,15.7 L216.2,15.0 L216.9,14.4 L217.7,13.7 L218.4,13.1 L219.3,12.5 L220.1,11.9 L221.0,11.4 L221.9,10.8 L222.8,10.3 L223.8,9.8 L224.8,9.4 L225.8,8.9 L226.9,8.5 L228.0,8.2 L229.1,7.8 L230.2,7.5 L231.4,7.3 L232.6,7.0 L233.8,6.8 L235.0,6.7 L236.3,6.6 L237.6,6.5 L238.9,6.4 L240.2,6.4 L241.5,6.5 L242.9,6.6 L244.3,6.7 L245.7,6.9 L247.1,7.2 L248.6,7.4 L250.0,7.8 L251.5,8.1 L253.0,8.6 L254.5,9.1 L256.0,9.6 L257.5,10.2 L259.1,10.8 L260.6,11.5 L262.2,12.2 L263.7,13.0 L265.3,13.8 L266.9,14.7 L268.5,15.7 L270.1,16.7 L271.7,17.7 L273.3,18.8 L274.9,19.9 L276.4,21.1 L278.1,22.4 L279.6,23.7 L281.2,25.0 L282.8,26.4 L284.4,27.8 L286.0,29.3 L287.6,30.8 L289.2,32.4 L290.8,34.0 L292.3,35.7 L293.9,37.3 L295.4,39.1 L297.0,40.8 L298.5,42.6 L300.0,44.5 L301.5,46.3 L303.0,48.2 L304.5,50.2 L305.9,52.1 L307.4,54.1 L308.8,56.1 L310.2,58.2 L311.6,60.2 L313.0,62.3 L314.3,64.4 L315.6,66.6 L316.9,68.7 L318.2,70.9 L319.5,73.1 L320.7,75.3 L321.9,77.5 L323.1,79.7 L324.3,81.9 L325.4,84.1 L326.5,86.4 L327.6,88.6 L328.7,90.8 L329.7,93.1 L330.7,95.3 L331.7,97.5 L332.6,99.7 L333.5,101.9 L334.4,104.1 L335.2,106.2 L336.1,108.3 L336.8,110.4 L337.6,112.5 L338.3,114.5 L339.0,116.5 L339.6,118.5 L340.2,120.4 L340.8,122.2 L341.3,124.0 L341.8,125.7 L342.3,127.4 L342.7,129.0 L343.1,130.5 L343.5,131.9 L343.8,133.2 L344.1,134.4 L344.3,135.6 L344.5,136.5 L344.7,137.4 L344.8,138.1 L344.9,138.7 L345.0,139.1 L345.0,139.2" fill="none" stroke="#5157a6" stroke-width="0.9"/>
<text x="235.70" y="15.30" font-size="7.2" fill="#5157a6" stroke="#5157a6" stroke-width="0.1" text-anchor="middle" font-weight="normal" >4</text>
<line x1="233.20" y1="11.60" x2="229.68" y2="9.51" stroke="#5157a6" stroke-width="0.6"/>
<path d="M228.30,8.70 L230.03,8.91 L229.32,10.12 Z" fill="#5157a6"/>
<line x1="233.20" y1="13.60" x2="231.18" y2="17.20" stroke="#5157a6" stroke-width="0.6"/>
<path d="M230.40,18.60 L230.57,16.86 L231.79,17.55 Z" fill="#5157a6"/>
<text x="240.00" y="31.30" font-size="7.2" fill="#84c24a" stroke="#84c24a" stroke-width="0.1" text-anchor="middle" font-weight="normal" >3</text>
<line x1="237.40" y1="26.80" x2="231.94" y2="25.32" stroke="#84c24a" stroke-width="0.6"/>
<path d="M230.40,24.90 L232.13,24.64 L231.76,25.99 Z" fill="#84c24a"/>
<line x1="237.40" y1="29.60" x2="233.51" y2="33.65" stroke="#84c24a" stroke-width="0.6"/>
<path d="M232.40,34.80 L233.00,33.16 L234.01,34.13 Z" fill="#84c24a"/>
<text x="240.80" y="52.30" font-size="7.2" fill="#e2252f" stroke="#e2252f" stroke-width="0.1" text-anchor="middle" font-weight="normal" >2</text>
<line x1="239.20" y1="45.60" x2="235.28" y2="41.28" stroke="#e2252f" stroke-width="0.6"/>
<path d="M234.20,40.10 L235.79,40.81 L234.76,41.75 Z" fill="#e2252f"/>
<line x1="239.20" y1="52.40" x2="236.79" y2="58.41" stroke="#e2252f" stroke-width="0.6"/>
<path d="M236.20,59.90 L236.14,58.15 L237.44,58.67 Z" fill="#e2252f"/>
<text x="237.60" y="89.80" font-size="7.2" fill="#2b2b2b" stroke="#2b2b2b" stroke-width="0.1" text-anchor="middle" font-weight="normal" >1</text>
<line x1="236.00" y1="81.80" x2="231.69" y2="76.95" stroke="#2b2b2b" stroke-width="0.7"/>
<path d="M230.50,75.60 L232.29,76.42 L231.10,77.48 Z" fill="#2b2b2b"/>
<line x1="238.00" y1="91.00" x2="238.16" y2="97.90" stroke="#2b2b2b" stroke-width="0.7"/>
<path d="M238.20,99.90 L237.26,97.92 L239.05,97.88 Z" fill="#2b2b2b"/>
<text x="254.4" y="110.7" font-size="6.8" fill="#5157a6" stroke="#5157a6" stroke-width="0.27" letter-spacing="0" font-weight="normal"><tspan>4: CoFeMnNiCr</tspan><tspan font-size="4.90" dy="2.2">x</tspan></text>
<text x="254.7" y="118.6" font-size="6.8" fill="#84c24a" stroke="#84c24a" stroke-width="0.27" letter-spacing="0" font-weight="normal"><tspan>3: CoFeNiCr</tspan><tspan font-size="4.90" dy="2.2">x</tspan></text>
<text x="254.7" y="126.1" font-size="6.8" fill="#e2252f" stroke="#e2252f" stroke-width="0.27" letter-spacing="0" font-weight="normal"><tspan>2: CoFeCr</tspan><tspan font-size="4.90" dy="2.2">x</tspan></text>
<text x="254.7" y="133.5" font-size="6.8" fill="#2b2b2b" stroke="#2b2b2b" stroke-width="0.27" letter-spacing="0" font-weight="normal"><tspan>1: CoCr</tspan><tspan font-size="4.90" dy="2.2">x</tspan></text>
<text transform="translate(191.00,96.90) rotate(-90)" font-size="8.2" fill="#2a2a2a" stroke="#2a2a2a" stroke-width="0.27">ΔS</text>
<text transform="translate(186.00,86.30) rotate(-90)" font-size="6.1" fill="#2a2a2a" stroke="#2a2a2a" stroke-width="0.27">FCC</text>
<text transform="translate(193.00,86.30) rotate(-90)" font-size="6.8" fill="#2a2a2a" stroke="#2a2a2a" stroke-width="0.27">mix</text>
<text transform="translate(191.00,73.30) rotate(-90)" font-size="8.1" fill="#2a2a2a" stroke="#2a2a2a" stroke-width="0.27">[J/K/mol]</text>
<text x="179.80" y="162.20" font-size="9.4" fill="#111" stroke="#111" stroke-width="0.27" text-anchor="start" font-weight="bold" >(b)</text>
<rect x="28" y="183.5" width="135.50" height="135.50" fill="none" stroke="#b4b4b4" stroke-width="1.0"/>
<line x1="28.00" y1="319.00" x2="28.00" y2="322.20" stroke="#b4b4b4" stroke-width="0.9" />
<line x1="28.00" y1="183.50" x2="28.00" y2="180.30" stroke="#b4b4b4" stroke-width="0.9" />
<text x="28.00" y="330.10" font-size="7.7" fill="#2a2a2a" stroke="#2a2a2a" stroke-width="0.27" text-anchor="middle" font-weight="normal" >0</text>
<line x1="55.10" y1="319.00" x2="55.10" y2="322.20" stroke="#b4b4b4" stroke-width="0.9" />
<line x1="55.10" y1="183.50" x2="55.10" y2="180.30" stroke="#b4b4b4" stroke-width="0.9" />
<text x="55.10" y="330.10" font-size="7.7" fill="#2a2a2a" stroke="#2a2a2a" stroke-width="0.27" text-anchor="middle" font-weight="normal" >20</text>
<line x1="82.20" y1="319.00" x2="82.20" y2="322.20" stroke="#b4b4b4" stroke-width="0.9" />
<line x1="82.20" y1="183.50" x2="82.20" y2="180.30" stroke="#b4b4b4" stroke-width="0.9" />
<text x="82.20" y="330.10" font-size="7.7" fill="#2a2a2a" stroke="#2a2a2a" stroke-width="0.27" text-anchor="middle" font-weight="normal" >40</text>
<line x1="109.30" y1="319.00" x2="109.30" y2="322.20" stroke="#b4b4b4" stroke-width="0.9" />
<line x1="109.30" y1="183.50" x2="109.30" y2="180.30" stroke="#b4b4b4" stroke-width="0.9" />
<text x="109.30" y="330.10" font-size="7.7" fill="#2a2a2a" stroke="#2a2a2a" stroke-width="0.27" text-anchor="middle" font-weight="normal" >60</text>
<line x1="136.40" y1="319.00" x2="136.40" y2="322.20" stroke="#b4b4b4" stroke-width="0.9" />
<line x1="136.40" y1="183.50" x2="136.40" y2="180.30" stroke="#b4b4b4" stroke-width="0.9" />
<text x="136.40" y="330.10" font-size="7.7" fill="#2a2a2a" stroke="#2a2a2a" stroke-width="0.27" text-anchor="middle" font-weight="normal" >80</text>
<line x1="163.50" y1="319.00" x2="163.50" y2="322.20" stroke="#b4b4b4" stroke-width="0.9" />
<line x1="163.50" y1="183.50" x2="163.50" y2="180.30" stroke="#b4b4b4" stroke-width="0.9" />
<text x="163.50" y="330.10" font-size="7.7" fill="#2a2a2a" stroke="#2a2a2a" stroke-width="0.27" text-anchor="middle" font-weight="normal" >100</text>
<line x1="24.80" y1="319.00" x2="28.00" y2="319.00" stroke="#b4b4b4" stroke-width="0.9" />
<line x1="163.50" y1="319.00" x2="166.70" y2="319.00" stroke="#b4b4b4" stroke-width="0.9" />
<text x="22.40" y="321.75" font-size="7.7" fill="#2a2a2a" stroke="#2a2a2a" stroke-width="0.27" text-anchor="end" font-weight="normal" >0</text>
<line x1="24.80" y1="296.42" x2="28.00" y2="296.42" stroke="#b4b4b4" stroke-width="0.9" />
<line x1="163.50" y1="296.42" x2="166.70" y2="296.42" stroke="#b4b4b4" stroke-width="0.9" />
<text x="22.40" y="299.17" font-size="7.7" fill="#2a2a2a" stroke="#2a2a2a" stroke-width="0.27" text-anchor="end" font-weight="normal" >2</text>
<line x1="24.80" y1="273.83" x2="28.00" y2="273.83" stroke="#b4b4b4" stroke-width="0.9" />
<line x1="163.50" y1="273.83" x2="166.70" y2="273.83" stroke="#b4b4b4" stroke-width="0.9" />
<text x="22.40" y="276.58" font-size="7.7" fill="#2a2a2a" stroke="#2a2a2a" stroke-width="0.27" text-anchor="end" font-weight="normal" >4</text>
<line x1="24.80" y1="251.25" x2="28.00" y2="251.25" stroke="#b4b4b4" stroke-width="0.9" />
<line x1="163.50" y1="251.25" x2="166.70" y2="251.25" stroke="#b4b4b4" stroke-width="0.9" />
<text x="22.40" y="254.00" font-size="7.7" fill="#2a2a2a" stroke="#2a2a2a" stroke-width="0.27" text-anchor="end" font-weight="normal" >6</text>
<line x1="24.80" y1="228.67" x2="28.00" y2="228.67" stroke="#b4b4b4" stroke-width="0.9" />
<line x1="163.50" y1="228.67" x2="166.70" y2="228.67" stroke="#b4b4b4" stroke-width="0.9" />
<text x="22.40" y="231.42" font-size="7.7" fill="#2a2a2a" stroke="#2a2a2a" stroke-width="0.27" text-anchor="end" font-weight="normal" >8</text>
<line x1="24.80" y1="206.08" x2="28.00" y2="206.08" stroke="#b4b4b4" stroke-width="0.9" />
<line x1="163.50" y1="206.08" x2="166.70" y2="206.08" stroke="#b4b4b4" stroke-width="0.9" />
<text x="22.40" y="208.83" font-size="7.7" fill="#2a2a2a" stroke="#2a2a2a" stroke-width="0.27" text-anchor="end" font-weight="normal" >10</text>
<line x1="24.80" y1="183.50" x2="28.00" y2="183.50" stroke="#b4b4b4" stroke-width="0.9" />
<line x1="163.50" y1="183.50" x2="166.70" y2="183.50" stroke="#b4b4b4" stroke-width="0.9" />
<text x="22.40" y="186.25" font-size="7.7" fill="#2a2a2a" stroke="#2a2a2a" stroke-width="0.27" text-anchor="end" font-weight="normal" >12</text>
<text x="95.75" y="342.60" font-size="8.2" fill="#2a2a2a" stroke="#2a2a2a" stroke-width="0.27" text-anchor="middle" font-weight="normal" >Element contents [at. %]</text>
<line x1="61.88" y1="183.50" x2="61.88" y2="319.00" stroke="#c2e4f0" stroke-width="1.0" stroke-dasharray="1.2 0.5"/>
<text transform="translate(59.20,284.30) rotate(-90)" font-size="7.6" fill="#98d0e5" stroke="#98d0e5" stroke-width="0.05">MoNbTaW</text>
<path d="M28.0,215.9 L28.0,215.7 L28.1,215.5 L28.2,215.1 L28.3,214.6 L28.5,214.0 L28.7,213.4 L28.9,212.7 L29.2,212.0 L29.5,211.2 L29.9,210.4 L30.3,209.6 L30.7,208.7 L31.2,207.9 L31.7,207.0 L32.2,206.1 L32.8,205.2 L33.4,204.3 L34.0,203.4 L34.7,202.5 L35.4,201.6 L36.2,200.7 L36.9,199.8 L37.8,199.0 L38.6,198.2 L39.5,197.4 L40.4,196.6 L41.3,195.8 L42.3,195.1 L43.3,194.4 L44.3,193.8 L45.4,193.1 L46.5,192.5 L47.6,192.0 L48.7,191.5 L49.9,191.0 L51.1,190.6 L52.3,190.2 L53.5,189.9 L54.8,189.6 L56.1,189.3 L57.4,189.1 L58.7,189.0 L60.0,188.9 L61.4,188.9 L62.8,188.9 L64.2,188.9 L65.6,189.0 L67.1,189.2 L68.5,189.4 L70.0,189.7 L71.5,190.0 L73.0,190.4 L74.5,190.9 L76.0,191.4 L77.6,191.9 L79.1,192.6 L80.7,193.2 L82.2,194.0 L83.8,194.7 L85.4,195.6 L87.0,196.5 L88.6,197.4 L90.2,198.4 L91.8,199.5 L93.4,200.6 L94.9,201.8 L96.6,203.0 L98.1,204.2 L99.7,205.6 L101.3,206.9 L102.9,208.4 L104.5,209.8 L106.1,211.3 L107.7,212.9 L109.3,214.5 L110.8,216.2 L112.4,217.9 L113.9,219.6 L115.5,221.4 L117.0,223.2 L118.5,225.1 L120.0,227.0 L121.5,228.9 L123.0,230.9 L124.4,232.9 L125.9,234.9 L127.3,236.9 L128.7,239.0 L130.1,241.1 L131.5,243.3 L132.8,245.4 L134.1,247.6 L135.4,249.8 L136.7,252.0 L138.0,254.2 L139.2,256.4 L140.4,258.6 L141.6,260.9 L142.8,263.1 L143.9,265.4 L145.0,267.6 L146.1,269.8 L147.2,272.1 L148.2,274.3 L149.2,276.5 L150.2,278.7 L151.1,280.9 L152.0,283.0 L152.9,285.2 L153.7,287.3 L154.6,289.4 L155.3,291.4 L156.1,293.4 L156.8,295.4 L157.5,297.3 L158.1,299.2 L158.7,301.0 L159.3,302.8 L159.8,304.5 L160.3,306.2 L160.8,307.8 L161.2,309.3 L161.6,310.7 L162.0,312.0 L162.3,313.3 L162.6,314.5 L162.8,315.5 L163.0,316.5 L163.2,317.3 L163.3,318.0 L163.4,318.5 L163.5,318.9 L163.5,319.0" fill="none" stroke="#ca5aa6" stroke-width="1.05" stroke-dasharray="1.8 1.3"/>
<path d="M28.0,225.4 L28.0,225.3 L28.1,225.1 L28.2,224.7 L28.3,224.3 L28.5,223.8 L28.7,223.3 L28.9,222.7 L29.2,222.1 L29.5,221.4 L29.9,220.7 L30.3,220.0 L30.7,219.3 L31.2,218.5 L31.7,217.8 L32.2,217.0 L32.8,216.3 L33.4,215.6 L34.0,214.8 L34.7,214.1 L35.4,213.4 L36.2,212.7 L36.9,212.0 L37.8,211.4 L38.6,210.8 L39.5,210.2 L40.4,209.6 L41.3,209.1 L42.3,208.5 L43.3,208.1 L44.3,207.6 L45.4,207.2 L46.5,206.8 L47.6,206.5 L48.7,206.2 L49.9,206.0 L51.1,205.7 L52.3,205.6 L53.5,205.4 L54.8,205.3 L56.1,205.3 L57.4,205.3 L58.7,205.3 L60.0,205.4 L61.4,205.5 L62.8,205.6 L64.2,205.8 L65.6,206.1 L67.1,206.3 L68.5,206.7 L70.0,207.0 L71.5,207.4 L73.0,207.9 L74.5,208.4 L76.0,208.9 L77.6,209.5 L79.1,210.1 L80.7,210.7 L82.2,211.4 L83.8,212.2 L85.4,213.0 L87.0,213.8 L88.6,214.6 L90.2,215.5 L91.8,216.5 L93.4,217.5 L94.9,218.5 L96.6,219.6 L98.1,220.7 L99.7,221.9 L101.3,223.1 L102.9,224.3 L104.5,225.6 L106.1,226.9 L107.7,228.3 L109.3,229.7 L110.8,231.1 L112.4,232.6 L113.9,234.2 L115.5,235.7 L117.0,237.3 L118.5,239.0 L120.0,240.7 L121.5,242.4 L123.0,244.1 L124.4,245.9 L125.9,247.7 L127.3,249.6 L128.7,251.4 L130.1,253.3 L131.5,255.2 L132.8,257.2 L134.1,259.1 L135.4,261.1 L136.7,263.1 L138.0,265.0 L139.2,267.0 L140.4,269.0 L141.6,271.0 L142.8,273.0 L143.9,275.0 L145.0,277.0 L146.1,278.9 L147.2,280.9 L148.2,282.8 L149.2,284.8 L150.2,286.6 L151.1,288.5 L152.0,290.3 L152.9,292.2 L153.7,293.9 L154.6,295.7 L155.3,297.4 L156.1,299.0 L156.8,300.6 L157.5,302.2 L158.1,303.7 L158.7,305.2 L159.3,306.6 L159.8,307.9 L160.3,309.2 L160.8,310.5 L161.2,311.6 L161.6,312.7 L162.0,313.8 L162.3,314.7 L162.6,315.6 L162.8,316.4 L163.0,317.1 L163.2,317.7 L163.3,318.2 L163.4,318.6 L163.5,318.9 L163.5,319.0" fill="none" stroke="#84c24a" stroke-width="0.9"/>
<path d="M28.0,228.4 L28.0,228.3 L28.1,228.1 L28.2,227.7 L28.3,227.3 L28.5,226.8 L28.7,226.2 L28.9,225.6 L29.2,224.9 L29.5,224.2 L29.9,223.5 L30.3,222.7 L30.7,221.9 L31.2,221.1 L31.7,220.3 L32.2,219.5 L32.8,218.7 L33.4,217.9 L34.0,217.1 L34.7,216.2 L35.4,215.4 L36.2,214.7 L36.9,213.9 L37.8,213.1 L38.6,212.4 L39.5,211.7 L40.4,211.0 L41.3,210.4 L42.3,209.8 L43.3,209.2 L44.3,208.6 L45.4,208.1 L46.5,207.7 L47.6,207.2 L48.7,206.8 L49.9,206.5 L51.1,206.2 L52.3,205.9 L53.5,205.7 L54.8,205.5 L56.1,205.3 L57.4,205.3 L58.7,205.2 L60.0,205.2 L61.4,205.2 L62.8,205.3 L64.2,205.4 L65.6,205.6 L67.1,205.8 L68.5,206.0 L70.0,206.3 L71.5,206.6 L73.0,207.0 L74.5,207.4 L76.0,207.9 L77.6,208.3 L79.1,208.9 L80.7,209.4 L82.2,210.0 L83.8,210.7 L85.4,211.4 L87.0,212.1 L88.6,212.9 L90.2,213.7 L91.8,214.5 L93.4,215.4 L94.9,216.3 L96.6,217.3 L98.1,218.3 L99.7,219.3 L101.3,220.4 L102.9,221.6 L104.5,222.8 L106.1,224.0 L107.7,225.3 L109.3,226.6 L110.8,228.0 L112.4,229.4 L113.9,230.9 L115.5,232.4 L117.0,234.0 L118.5,235.6 L120.0,237.2 L121.5,238.9 L123.0,240.6 L124.4,242.4 L125.9,244.2 L127.3,246.1 L128.7,248.0 L130.1,249.9 L131.5,251.9 L132.8,253.9 L134.1,255.9 L135.4,257.9 L136.7,260.0 L138.0,262.1 L139.2,264.1 L140.4,266.2 L141.6,268.3 L142.8,270.4 L143.9,272.5 L145.0,274.6 L146.1,276.7 L147.2,278.8 L148.2,280.9 L149.2,282.9 L150.2,284.9 L151.1,286.9 L152.0,288.9 L152.9,290.8 L153.7,292.7 L154.6,294.5 L155.3,296.3 L156.1,298.1 L156.8,299.8 L157.5,301.4 L158.1,303.0 L158.7,304.6 L159.3,306.1 L159.8,307.5 L160.3,308.8 L160.8,310.1 L161.2,311.3 L161.6,312.5 L162.0,313.6 L162.3,314.6 L162.6,315.5 L162.8,316.3 L163.0,317.0 L163.2,317.7 L163.3,318.2 L163.4,318.6 L163.5,318.9 L163.5,319.0" fill="none" stroke="#2b2b2b" stroke-width="0.9"/>
<path d="M28.0,226.9 L28.0,226.8 L28.1,226.6 L28.2,226.2 L28.3,225.8 L28.5,225.3 L28.7,224.8 L28.9,224.2 L29.2,223.5 L29.5,222.8 L29.9,222.1 L30.3,221.4 L30.7,220.7 L31.2,219.9 L31.7,219.1 L32.2,218.3 L32.8,217.6 L33.4,216.8 L34.0,216.0 L34.7,215.3 L35.4,214.5 L36.2,213.8 L36.9,213.1 L37.8,212.4 L38.6,211.7 L39.5,211.1 L40.4,210.4 L41.3,209.8 L42.3,209.3 L43.3,208.8 L44.3,208.3 L45.4,207.8 L46.5,207.4 L47.6,207.0 L48.7,206.6 L49.9,206.3 L51.1,206.0 L52.3,205.8 L53.5,205.6 L54.8,205.4 L56.1,205.3 L57.4,205.2 L58.7,205.2 L60.0,205.2 L61.4,205.2 L62.8,205.3 L64.2,205.4 L65.6,205.6 L67.1,205.8 L68.5,206.0 L70.0,206.3 L71.5,206.6 L73.0,207.0 L74.5,207.4 L76.0,207.8 L77.6,208.3 L79.1,208.8 L80.7,209.3 L82.2,209.9 L83.8,210.6 L85.4,211.2 L87.0,211.9 L88.6,212.7 L90.2,213.5 L91.8,214.3 L93.4,215.2 L94.9,216.1 L96.6,217.0 L98.1,218.0 L99.7,219.1 L101.3,220.2 L102.9,221.3 L104.5,222.5 L106.1,223.7 L107.7,225.0 L109.3,226.3 L110.8,227.7 L112.4,229.2 L113.9,230.6 L115.5,232.1 L117.0,233.7 L118.5,235.3 L120.0,237.0 L121.5,238.7 L123.0,240.4 L124.4,242.2 L125.9,244.0 L127.3,245.9 L128.7,247.8 L130.1,249.7 L131.5,251.7 L132.8,253.7 L134.1,255.7 L135.4,257.8 L136.7,259.8 L138.0,261.9 L139.2,264.0 L140.4,266.1 L141.6,268.2 L142.8,270.3 L143.9,272.4 L145.0,274.5 L146.1,276.6 L147.2,278.7 L148.2,280.7 L149.2,282.8 L150.2,284.8 L151.1,286.8 L152.0,288.7 L152.9,290.6 L153.7,292.5 L154.6,294.4 L155.3,296.2 L156.1,297.9 L156.8,299.7 L157.5,301.3 L158.1,302.9 L158.7,304.5 L159.3,306.0 L159.8,307.4 L160.3,308.8 L160.8,310.1 L161.2,311.3 L161.6,312.4 L162.0,313.5 L162.3,314.5 L162.6,315.4 L162.8,316.3 L163.0,317.0 L163.2,317.7 L163.3,318.2 L163.4,318.6 L163.5,318.9 L163.5,319.0" fill="none" stroke="#5157a6" stroke-width="0.9"/>
<path d="M28.0,231.6 L28.0,231.5 L28.1,231.3 L28.2,230.9 L28.3,230.5 L28.5,229.9 L28.7,229.3 L28.9,228.7 L29.2,227.9 L29.5,227.2 L29.9,226.4 L30.3,225.6 L30.7,224.7 L31.2,223.8 L31.7,222.9 L32.2,222.0 L32.8,221.1 L33.4,220.1 L34.0,219.2 L34.7,218.2 L35.4,217.3 L36.2,216.4 L36.9,215.5 L37.8,214.6 L38.6,213.8 L39.5,212.9 L40.4,212.1 L41.3,211.3 L42.3,210.6 L43.3,209.9 L44.3,209.2 L45.4,208.6 L46.5,208.0 L47.6,207.5 L48.7,207.0 L49.9,206.5 L51.1,206.1 L52.3,205.8 L53.5,205.5 L54.8,205.2 L56.1,205.0 L57.4,204.9 L58.7,204.8 L60.0,204.7 L61.4,204.7 L62.8,204.8 L64.2,204.9 L65.6,205.0 L67.1,205.2 L68.5,205.4 L70.0,205.7 L71.5,206.0 L73.0,206.4 L74.5,206.8 L76.0,207.2 L77.6,207.7 L79.1,208.2 L80.7,208.8 L82.2,209.4 L83.8,210.0 L85.4,210.7 L87.0,211.4 L88.6,212.2 L90.2,213.0 L91.8,213.8 L93.4,214.7 L94.9,215.6 L96.6,216.5 L98.1,217.5 L99.7,218.5 L101.3,219.6 L102.9,220.7 L104.5,221.9 L106.1,223.1 L107.7,224.3 L109.3,225.6 L110.8,227.0 L112.4,228.4 L113.9,229.8 L115.5,231.3 L117.0,232.8 L118.5,234.4 L120.0,236.1 L121.5,237.7 L123.0,239.5 L124.4,241.3 L125.9,243.1 L127.3,244.9 L128.7,246.8 L130.1,248.8 L131.5,250.8 L132.8,252.8 L134.1,254.8 L135.4,256.9 L136.7,259.0 L138.0,261.1 L139.2,263.2 L140.4,265.4 L141.6,267.5 L142.8,269.7 L143.9,271.9 L145.0,274.0 L146.1,276.2 L147.2,278.3 L148.2,280.4 L149.2,282.5 L150.2,284.6 L151.1,286.6 L152.0,288.6 L152.9,290.6 L153.7,292.5 L154.6,294.4 L155.3,296.2 L156.1,298.0 L156.8,299.8 L157.5,301.4 L158.1,303.1 L158.7,304.6 L159.3,306.1 L159.8,307.5 L160.3,308.9 L160.8,310.2 L161.2,311.4 L161.6,312.6 L162.0,313.6 L162.3,314.6 L162.6,315.5 L162.8,316.3 L163.0,317.1 L163.2,317.7 L163.3,318.2 L163.4,318.6 L163.5,318.9 L163.5,319.0" fill="none" stroke="#e2252f" stroke-width="0.9"/>
<text x="110.30" y="200.60" font-size="7.6" fill="#2a2a2a" stroke="#2a2a2a" stroke-width="0.27" text-anchor="start" font-weight="normal" word-spacing="0.6">ideal mixing</text>
<line x1="109.40" y1="199.70" x2="102.06" y2="202.43" stroke="#231f20" stroke-width="0.7"/>
<path d="M100.00,203.20 L101.75,201.59 L102.38,203.28 Z" fill="#231f20"/>
<text x="42.40" y="238.00" font-size="9.0" fill="#e2252f" stroke="#e2252f" stroke-width="0.2" text-anchor="middle" font-weight="normal" >2</text>
<line x1="40.70" y1="231.30" x2="35.49" y2="225.62" stroke="#231f20" stroke-width="0.7"/>
<path d="M34.00,224.00 L36.15,225.01 L34.82,226.23 Z" fill="#231f20"/>
<text x="82.00" y="234.20" font-size="8.4" fill="#2b2b2b" stroke="#2b2b2b" stroke-width="0.3" text-anchor="start" font-weight="normal" >1,</text>
<text x="89.40" y="234.20" font-size="8.4" fill="#5157a6" stroke="#5157a6" stroke-width="0.3" text-anchor="start" font-weight="normal" >4</text>
<line x1="92.00" y1="227.60" x2="96.08" y2="221.43" stroke="#231f20" stroke-width="0.7"/>
<path d="M97.30,219.60 L96.84,221.93 L95.33,220.94 Z" fill="#231f20"/>
<text x="112.40" y="254.70" font-size="9.2" fill="#84c24a" stroke="#84c24a" stroke-width="0.15" text-anchor="middle" font-weight="normal" >3</text>
<line x1="112.70" y1="246.70" x2="115.72" y2="240.67" stroke="#231f20" stroke-width="0.7"/>
<path d="M116.70,238.70 L116.52,241.07 L114.91,240.27 Z" fill="#231f20"/>
<text x="88.6" y="286.7" font-size="7.3" fill="#2b2b2b" stroke="#2b2b2b" stroke-width="0.42" letter-spacing="-0.12" font-weight="normal"><tspan>1. Mo</tspan><tspan font-size="5.26" dy="2.2">x</tspan><tspan dy="-2.2" dx="0.35">NbTaW</tspan></text>
<text x="88.3" y="295.1" font-size="7.3" fill="#e2252f" stroke="#e2252f" stroke-width="0.42" letter-spacing="-0.12" font-weight="normal"><tspan>2. MoNb</tspan><tspan font-size="5.26" dy="2.2">x</tspan><tspan dy="-2.2" dx="0.35">TaW</tspan></text>
<text x="88.3" y="303.6" font-size="7.3" fill="#84c24a" stroke="#84c24a" stroke-width="0.42" letter-spacing="-0.12" font-weight="normal"><tspan>3. MoNbTa</tspan><tspan font-size="5.26" dy="2.2">x</tspan><tspan dy="-2.2" dx="0.35">W</tspan></text>
<text x="88.3" y="312.4" font-size="7.3" fill="#5157a6" stroke="#5157a6" stroke-width="0.42" letter-spacing="-0.12" font-weight="normal"><tspan>4. MoNbTaW</tspan><tspan font-size="5.26" dy="2.2">x</tspan></text>
<text transform="translate(9.80,276.50) rotate(-90)" font-size="8.2" fill="#2a2a2a" stroke="#2a2a2a" stroke-width="0.27">ΔS</text>
<text transform="translate(5.20,265.90) rotate(-90)" font-size="6.1" fill="#2a2a2a" stroke="#2a2a2a" stroke-width="0.27">BCC</text>
<text transform="translate(11.90,265.90) rotate(-90)" font-size="6.8" fill="#2a2a2a" stroke="#2a2a2a" stroke-width="0.27">mix</text>
<text transform="translate(9.80,252.90) rotate(-90)" font-size="8.1" fill="#2a2a2a" stroke="#2a2a2a" stroke-width="0.27">[J/K/mol]</text>
<text x="0.40" y="341.60" font-size="9.6" fill="#111" stroke="#111" stroke-width="0.27" text-anchor="start" font-weight="bold" >(c)</text>
<rect x="209.4" y="183.3" width="135.40" height="135.50" fill="none" stroke="#b4b4b4" stroke-width="1.0"/>
<line x1="209.40" y1="318.80" x2="209.40" y2="322.00" stroke="#b4b4b4" stroke-width="0.9" />
<line x1="209.40" y1="183.30" x2="209.40" y2="180.10" stroke="#b4b4b4" stroke-width="0.9" />
<text x="209.40" y="329.90" font-size="7.7" fill="#2a2a2a" stroke="#2a2a2a" stroke-width="0.27" text-anchor="middle" font-weight="normal" >0</text>
<line x1="236.48" y1="318.80" x2="236.48" y2="322.00" stroke="#b4b4b4" stroke-width="0.9" />
<line x1="236.48" y1="183.30" x2="236.48" y2="180.10" stroke="#b4b4b4" stroke-width="0.9" />
<text x="236.48" y="329.90" font-size="7.7" fill="#2a2a2a" stroke="#2a2a2a" stroke-width="0.27" text-anchor="middle" font-weight="normal" >20</text>
<line x1="263.56" y1="318.80" x2="263.56" y2="322.00" stroke="#b4b4b4" stroke-width="0.9" />
<line x1="263.56" y1="183.30" x2="263.56" y2="180.10" stroke="#b4b4b4" stroke-width="0.9" />
<text x="263.56" y="329.90" font-size="7.7" fill="#2a2a2a" stroke="#2a2a2a" stroke-width="0.27" text-anchor="middle" font-weight="normal" >40</text>
<line x1="290.64" y1="318.80" x2="290.64" y2="322.00" stroke="#b4b4b4" stroke-width="0.9" />
<line x1="290.64" y1="183.30" x2="290.64" y2="180.10" stroke="#b4b4b4" stroke-width="0.9" />
<text x="290.64" y="329.90" font-size="7.7" fill="#2a2a2a" stroke="#2a2a2a" stroke-width="0.27" text-anchor="middle" font-weight="normal" >60</text>
<line x1="317.72" y1="318.80" x2="317.72" y2="322.00" stroke="#b4b4b4" stroke-width="0.9" />
<line x1="317.72" y1="183.30" x2="317.72" y2="180.10" stroke="#b4b4b4" stroke-width="0.9" />
<text x="317.72" y="329.90" font-size="7.7" fill="#2a2a2a" stroke="#2a2a2a" stroke-width="0.27" text-anchor="middle" font-weight="normal" >80</text>
<line x1="344.80" y1="318.80" x2="344.80" y2="322.00" stroke="#b4b4b4" stroke-width="0.9" />
<line x1="344.80" y1="183.30" x2="344.80" y2="180.10" stroke="#b4b4b4" stroke-width="0.9" />
<text x="344.80" y="329.90" font-size="7.7" fill="#2a2a2a" stroke="#2a2a2a" stroke-width="0.27" text-anchor="middle" font-weight="normal" >100</text>
<line x1="206.20" y1="318.80" x2="209.40" y2="318.80" stroke="#b4b4b4" stroke-width="0.9" />
<line x1="344.80" y1="318.80" x2="348.00" y2="318.80" stroke="#b4b4b4" stroke-width="0.9" />
<text x="203.80" y="321.55" font-size="7.7" fill="#2a2a2a" stroke="#2a2a2a" stroke-width="0.27" text-anchor="end" font-weight="normal" >0</text>
<line x1="206.20" y1="273.63" x2="209.40" y2="273.63" stroke="#b4b4b4" stroke-width="0.9" />
<line x1="344.80" y1="273.63" x2="348.00" y2="273.63" stroke="#b4b4b4" stroke-width="0.9" />
<text x="203.80" y="276.38" font-size="7.7" fill="#2a2a2a" stroke="#2a2a2a" stroke-width="0.27" text-anchor="end" font-weight="normal" >5</text>
<line x1="206.20" y1="228.47" x2="209.40" y2="228.47" stroke="#b4b4b4" stroke-width="0.9" />
<line x1="344.80" y1="228.47" x2="348.00" y2="228.47" stroke="#b4b4b4" stroke-width="0.9" />
<text x="203.80" y="231.22" font-size="7.7" fill="#2a2a2a" stroke="#2a2a2a" stroke-width="0.27" text-anchor="end" font-weight="normal" >10</text>
<line x1="206.20" y1="183.30" x2="209.40" y2="183.30" stroke="#b4b4b4" stroke-width="0.9" />
<line x1="344.80" y1="183.30" x2="348.00" y2="183.30" stroke="#b4b4b4" stroke-width="0.9" />
<text x="203.80" y="186.05" font-size="7.7" fill="#2a2a2a" stroke="#2a2a2a" stroke-width="0.27" text-anchor="end" font-weight="normal" >15</text>
<text x="277.10" y="341.50" font-size="8.2" fill="#2a2a2a" stroke="#2a2a2a" stroke-width="0.27" text-anchor="middle" font-weight="normal" >V contents [at. %]</text>
<path d="M209.4,214.7 L209.4,214.6 L209.5,214.4 L209.6,214.1 L209.7,213.7 L209.9,213.3 L210.1,212.8 L210.3,212.3 L210.6,211.8 L210.9,211.2 L211.3,210.6 L211.7,210.0 L212.1,209.4 L212.6,208.8 L213.1,208.2 L213.6,207.5 L214.2,206.9 L214.8,206.3 L215.4,205.6 L216.1,205.0 L216.8,204.4 L217.6,203.9 L218.3,203.3 L219.1,202.7 L220.0,202.2 L220.9,201.7 L221.8,201.2 L222.7,200.8 L223.7,200.4 L224.7,200.0 L225.7,199.6 L226.8,199.3 L227.8,199.0 L228.9,198.7 L230.1,198.5 L231.2,198.3 L232.4,198.1 L233.7,198.0 L234.9,198.0 L236.2,197.9 L237.4,197.9 L238.7,198.0 L240.1,198.1 L241.4,198.2 L242.8,198.4 L244.2,198.6 L245.6,198.9 L247.0,199.2 L248.4,199.6 L249.9,200.0 L251.4,200.5 L252.9,201.0 L254.4,201.5 L255.9,202.1 L257.4,202.8 L258.9,203.5 L260.5,204.2 L262.0,205.0 L263.6,205.8 L265.2,206.7 L266.7,207.6 L268.3,208.6 L269.9,209.6 L271.5,210.6 L273.1,211.7 L274.7,212.9 L276.3,214.1 L277.9,215.3 L279.5,216.6 L281.1,217.9 L282.7,219.2 L284.3,220.6 L285.9,222.1 L287.5,223.5 L289.0,225.0 L290.6,226.6 L292.2,228.1 L293.7,229.8 L295.3,231.4 L296.8,233.1 L298.3,234.8 L299.8,236.5 L301.3,238.2 L302.8,240.0 L304.3,241.8 L305.8,243.7 L307.2,245.5 L308.6,247.4 L310.0,249.3 L311.4,251.2 L312.8,253.1 L314.1,255.0 L315.5,257.0 L316.8,258.9 L318.0,260.9 L319.3,262.9 L320.5,264.9 L321.8,266.8 L323.0,268.8 L324.1,270.8 L325.3,272.8 L326.4,274.7 L327.4,276.7 L328.5,278.7 L329.5,280.6 L330.5,282.5 L331.5,284.4 L332.4,286.3 L333.3,288.2 L334.2,290.0 L335.1,291.9 L335.9,293.7 L336.6,295.4 L337.4,297.2 L338.1,298.8 L338.8,300.5 L339.4,302.1 L340.0,303.7 L340.6,305.2 L341.1,306.6 L341.6,308.0 L342.1,309.4 L342.5,310.7 L342.9,311.9 L343.3,313.0 L343.6,314.1 L343.9,315.0 L344.1,315.9 L344.3,316.7 L344.5,317.4 L344.6,317.9 L344.7,318.4 L344.8,318.7 L344.8,318.8" fill="none" stroke="#5157a6" stroke-width="1.05" stroke-dasharray="1.8 1.3"/>
<path d="M209.4,236.3 L209.4,236.2 L209.5,236.0 L209.6,235.7 L209.7,235.3 L209.9,234.8 L210.1,234.3 L210.3,233.8 L210.6,233.2 L210.9,232.6 L211.3,231.9 L211.7,231.3 L212.1,230.6 L212.6,229.9 L213.1,229.2 L213.6,228.5 L214.2,227.7 L214.8,227.0 L215.4,226.3 L216.1,225.6 L216.8,224.9 L217.6,224.2 L218.3,223.5 L219.1,222.8 L220.0,222.1 L220.9,221.5 L221.8,220.9 L222.7,220.3 L223.7,219.7 L224.7,219.1 L225.7,218.6 L226.8,218.1 L227.8,217.6 L228.9,217.2 L230.1,216.8 L231.2,216.4 L232.4,216.1 L233.7,215.8 L234.9,215.5 L236.2,215.3 L237.4,215.1 L238.7,214.9 L240.1,214.8 L241.4,214.7 L242.8,214.7 L244.2,214.7 L245.6,214.7 L247.0,214.8 L248.4,215.0 L249.9,215.1 L251.4,215.4 L252.9,215.6 L254.4,216.0 L255.9,216.3 L257.4,216.7 L258.9,217.2 L260.5,217.6 L262.0,218.2 L263.6,218.8 L265.2,219.4 L266.7,220.1 L268.3,220.8 L269.9,221.5 L271.5,222.3 L273.1,223.2 L274.7,224.1 L276.3,225.0 L277.9,226.0 L279.5,227.0 L281.1,228.1 L282.7,229.2 L284.3,230.3 L285.9,231.5 L287.5,232.7 L289.0,233.9 L290.6,235.2 L292.2,236.5 L293.7,237.9 L295.3,239.3 L296.8,240.7 L298.3,242.2 L299.8,243.7 L301.3,245.2 L302.8,246.7 L304.3,248.3 L305.8,249.9 L307.2,251.5 L308.6,253.2 L310.0,254.8 L311.4,256.5 L312.8,258.2 L314.1,259.9 L315.5,261.7 L316.8,263.4 L318.0,265.2 L319.3,266.9 L320.5,268.7 L321.8,270.5 L323.0,272.3 L324.1,274.1 L325.3,275.9 L326.4,277.7 L327.4,279.5 L328.5,281.3 L329.5,283.0 L330.5,284.8 L331.5,286.6 L332.4,288.3 L333.3,290.0 L334.2,291.7 L335.1,293.4 L335.9,295.1 L336.6,296.7 L337.4,298.3 L338.1,299.9 L338.8,301.5 L339.4,303.0 L340.0,304.4 L340.6,305.8 L341.1,307.2 L341.6,308.5 L342.1,309.8 L342.5,311.0 L342.9,312.2 L343.3,313.2 L343.6,314.2 L343.9,315.2 L344.1,316.0 L344.3,316.8 L344.5,317.4 L344.6,318.0 L344.7,318.4 L344.8,318.7 L344.8,318.8" fill="none" stroke="#84c24a" stroke-width="1.05" stroke-dasharray="1.8 1.3"/>
<path d="M209.4,266.7 L209.4,266.6 L209.5,266.4 L209.6,266.1 L209.7,265.7 L209.9,265.2 L210.1,264.6 L210.3,264.0 L210.6,263.4 L210.9,262.7 L211.3,262.0 L211.7,261.2 L212.1,260.4 L212.6,259.6 L213.1,258.8 L213.6,258.0 L214.2,257.1 L214.8,256.3 L215.4,255.4 L216.1,254.5 L216.8,253.6 L217.6,252.8 L218.3,251.9 L219.1,251.1 L220.0,250.2 L220.9,249.4 L221.8,248.5 L222.7,247.7 L223.7,246.9 L224.7,246.2 L225.7,245.4 L226.8,244.7 L227.8,243.9 L228.9,243.3 L230.1,242.6 L231.2,242.0 L232.4,241.3 L233.7,240.8 L234.9,240.2 L236.2,239.7 L237.4,239.2 L238.7,238.8 L240.1,238.4 L241.4,238.0 L242.8,237.6 L244.2,237.3 L245.6,237.1 L247.0,236.8 L248.4,236.6 L249.9,236.5 L251.4,236.4 L252.9,236.3 L254.4,236.3 L255.9,236.3 L257.4,236.4 L258.9,236.5 L260.5,236.6 L262.0,236.8 L263.6,237.0 L265.2,237.3 L266.7,237.6 L268.3,238.0 L269.9,238.4 L271.5,238.8 L273.1,239.3 L274.7,239.8 L276.3,240.4 L277.9,241.0 L279.5,241.7 L281.1,242.4 L282.7,243.1 L284.3,243.9 L285.9,244.7 L287.5,245.6 L289.0,246.5 L290.6,247.4 L292.2,248.4 L293.7,249.4 L295.3,250.4 L296.8,251.5 L298.3,252.6 L299.8,253.8 L301.3,255.0 L302.8,256.2 L304.3,257.4 L305.8,258.7 L307.2,260.0 L308.6,261.3 L310.0,262.6 L311.4,264.0 L312.8,265.4 L314.1,266.8 L315.5,268.3 L316.8,269.7 L318.0,271.2 L319.3,272.7 L320.5,274.2 L321.8,275.7 L323.0,277.2 L324.1,278.7 L325.3,280.3 L326.4,281.8 L327.4,283.4 L328.5,284.9 L329.5,286.5 L330.5,288.0 L331.5,289.6 L332.4,291.1 L333.3,292.6 L334.2,294.1 L335.1,295.6 L335.9,297.1 L336.6,298.6 L337.4,300.0 L338.1,301.4 L338.8,302.8 L339.4,304.2 L340.0,305.5 L340.6,306.8 L341.1,308.0 L341.6,309.2 L342.1,310.4 L342.5,311.5 L342.9,312.6 L343.3,313.6 L343.6,314.5 L343.9,315.4 L344.1,316.2 L344.3,316.9 L344.5,317.5 L344.6,318.0 L344.7,318.4 L344.8,318.7 L344.8,318.8" fill="none" stroke="#e2252f" stroke-width="1.05" stroke-dasharray="1.8 1.3"/>
<path d="M209.4,228.2 L209.4,228.1 L209.5,227.9 L209.6,227.7 L209.7,227.3 L209.9,227.0 L210.1,226.6 L210.3,226.1 L210.6,225.6 L210.9,225.2 L211.3,224.6 L211.7,224.1 L212.1,223.6 L212.6,223.0 L213.1,222.5 L213.6,221.9 L214.2,221.4 L214.8,220.8 L215.4,220.3 L216.1,219.7 L216.8,219.2 L217.6,218.7 L218.3,218.2 L219.1,217.7 L220.0,217.2 L220.9,216.8 L221.8,216.3 L222.7,215.9 L223.7,215.5 L224.7,215.2 L225.7,214.8 L226.8,214.5 L227.8,214.2 L228.9,214.0 L230.1,213.7 L231.2,213.6 L232.4,213.4 L233.7,213.3 L234.9,213.2 L236.2,213.1 L237.4,213.1 L238.7,213.1 L240.1,213.2 L241.4,213.3 L242.8,213.5 L244.2,213.6 L245.6,213.9 L247.0,214.1 L248.4,214.4 L249.9,214.8 L251.4,215.2 L252.9,215.6 L254.4,216.1 L255.9,216.6 L257.4,217.2 L258.9,217.8 L260.5,218.4 L262.0,219.1 L263.6,219.9 L265.2,220.6 L266.7,221.5 L268.3,222.3 L269.9,223.2 L271.5,224.2 L273.1,225.1 L274.7,226.1 L276.3,227.2 L277.9,228.3 L279.5,229.4 L281.1,230.5 L282.7,231.7 L284.3,232.9 L285.9,234.1 L287.5,235.4 L289.0,236.7 L290.6,238.0 L292.2,239.3 L293.7,240.7 L295.3,242.1 L296.8,243.5 L298.3,244.9 L299.8,246.4 L301.3,247.8 L302.8,249.3 L304.3,250.8 L305.8,252.3 L307.2,253.9 L308.6,255.4 L310.0,257.0 L311.4,258.6 L312.8,260.1 L314.1,261.7 L315.5,263.3 L316.8,265.0 L318.0,266.6 L319.3,268.2 L320.5,269.9 L321.8,271.5 L323.0,273.2 L324.1,274.9 L325.3,276.5 L326.4,278.2 L327.4,279.9 L328.5,281.6 L329.5,283.2 L330.5,284.9 L331.5,286.6 L332.4,288.3 L333.3,289.9 L334.2,291.6 L335.1,293.2 L335.9,294.8 L336.6,296.4 L337.4,298.0 L338.1,299.6 L338.8,301.1 L339.4,302.6 L340.0,304.1 L340.6,305.5 L341.1,306.9 L341.6,308.2 L342.1,309.5 L342.5,310.8 L342.9,311.9 L343.3,313.1 L343.6,314.1 L343.9,315.1 L344.1,315.9 L344.3,316.7 L344.5,317.4 L344.6,317.9 L344.7,318.4 L344.8,318.7 L344.8,318.8" fill="none" stroke="#5157a6" stroke-width="0.9"/>
<path d="M209.4,246.7 L209.4,246.6 L209.5,246.4 L209.6,246.1 L209.7,245.7 L209.9,245.3 L210.1,244.8 L210.3,244.2 L210.6,243.6 L210.9,242.9 L211.3,242.2 L211.7,241.5 L212.1,240.8 L212.6,240.0 L213.1,239.2 L213.6,238.4 L214.2,237.6 L214.8,236.8 L215.4,235.9 L216.1,235.1 L216.8,234.2 L217.6,233.4 L218.3,232.6 L219.1,231.8 L220.0,231.0 L220.9,230.2 L221.8,229.4 L222.7,228.7 L223.7,227.9 L224.7,227.2 L225.7,226.6 L226.8,225.9 L227.8,225.3 L228.9,224.7 L230.1,224.2 L231.2,223.7 L232.4,223.2 L233.7,222.8 L234.9,222.4 L236.2,222.1 L237.4,221.8 L238.7,221.5 L240.1,221.3 L241.4,221.1 L242.8,221.0 L244.2,220.9 L245.6,220.9 L247.0,220.9 L248.4,220.9 L249.9,221.0 L251.4,221.2 L252.9,221.3 L254.4,221.6 L255.9,221.8 L257.4,222.1 L258.9,222.5 L260.5,222.8 L262.0,223.2 L263.6,223.7 L265.2,224.2 L266.7,224.7 L268.3,225.3 L269.9,225.9 L271.5,226.6 L273.1,227.2 L274.7,228.0 L276.3,228.7 L277.9,229.5 L279.5,230.3 L281.1,231.2 L282.7,232.1 L284.3,233.0 L285.9,234.0 L287.5,235.0 L289.0,236.1 L290.6,237.1 L292.2,238.3 L293.7,239.4 L295.3,240.6 L296.8,241.9 L298.3,243.1 L299.8,244.4 L301.3,245.8 L302.8,247.2 L304.3,248.6 L305.8,250.1 L307.2,251.5 L308.6,253.1 L310.0,254.6 L311.4,256.2 L312.8,257.8 L314.1,259.5 L315.5,261.1 L316.8,262.8 L318.0,264.6 L319.3,266.3 L320.5,268.1 L321.8,269.8 L323.0,271.6 L324.1,273.4 L325.3,275.2 L326.4,277.1 L327.4,278.9 L328.5,280.7 L329.5,282.5 L330.5,284.3 L331.5,286.1 L332.4,287.9 L333.3,289.7 L334.2,291.4 L335.1,293.1 L335.9,294.8 L336.6,296.5 L337.4,298.2 L338.1,299.8 L338.8,301.4 L339.4,302.9 L340.0,304.4 L340.6,305.8 L341.1,307.2 L341.6,308.5 L342.1,309.8 L342.5,311.0 L342.9,312.2 L343.3,313.3 L343.6,314.3 L343.9,315.2 L344.1,316.0 L344.3,316.8 L344.5,317.4 L344.6,318.0 L344.7,318.4 L344.8,318.7 L344.8,318.8" fill="none" stroke="#84c24a" stroke-width="0.9"/>
<path d="M209.4,273.0 L209.4,272.9 L209.5,272.7 L209.6,272.4 L209.7,272.0 L209.9,271.5 L210.1,270.9 L210.3,270.3 L210.6,269.6 L210.9,268.8 L211.3,268.1 L211.7,267.2 L212.1,266.4 L212.6,265.5 L213.1,264.5 L213.6,263.6 L214.2,262.6 L214.8,261.6 L215.4,260.6 L216.1,259.6 L216.8,258.6 L217.6,257.6 L218.3,256.5 L219.1,255.5 L220.0,254.5 L220.9,253.5 L221.8,252.5 L222.7,251.6 L223.7,250.6 L224.7,249.7 L225.7,248.8 L226.8,248.0 L227.8,247.2 L228.9,246.4 L230.1,245.6 L231.2,244.9 L232.4,244.2 L233.7,243.6 L234.9,243.0 L236.2,242.5 L237.4,242.0 L238.7,241.5 L240.1,241.1 L241.4,240.8 L242.8,240.4 L244.2,240.2 L245.6,239.9 L247.0,239.7 L248.4,239.6 L249.9,239.5 L251.4,239.4 L252.9,239.4 L254.4,239.4 L255.9,239.4 L257.4,239.5 L258.9,239.6 L260.5,239.8 L262.0,239.9 L263.6,240.1 L265.2,240.4 L266.7,240.7 L268.3,241.0 L269.9,241.3 L271.5,241.7 L273.1,242.1 L274.7,242.5 L276.3,243.0 L277.9,243.5 L279.5,244.0 L281.1,244.6 L282.7,245.2 L284.3,245.9 L285.9,246.6 L287.5,247.3 L289.0,248.1 L290.6,248.9 L292.2,249.7 L293.7,250.6 L295.3,251.6 L296.8,252.6 L298.3,253.6 L299.8,254.7 L301.3,255.9 L302.8,257.0 L304.3,258.3 L305.8,259.6 L307.2,260.9 L308.6,262.3 L310.0,263.7 L311.4,265.1 L312.8,266.6 L314.1,268.2 L315.5,269.7 L316.8,271.3 L318.0,273.0 L319.3,274.6 L320.5,276.3 L321.8,278.0 L323.0,279.7 L324.1,281.4 L325.3,283.1 L326.4,284.8 L327.4,286.5 L328.5,288.1 L329.5,289.8 L330.5,291.5 L331.5,293.1 L332.4,294.7 L333.3,296.3 L334.2,297.8 L335.1,299.3 L335.9,300.7 L336.6,302.1 L337.4,303.5 L338.1,304.8 L338.8,306.1 L339.4,307.3 L340.0,308.5 L340.6,309.6 L341.1,310.6 L341.6,311.6 L342.1,312.6 L342.5,313.4 L342.9,314.3 L343.3,315.0 L343.6,315.7 L343.9,316.4 L344.1,316.9 L344.3,317.4 L344.5,317.9 L344.6,318.2 L344.7,318.5 L344.8,318.7 L344.8,318.8" fill="none" stroke="#e2252f" stroke-width="0.9"/>
<path d="M209.4,318.8 L209.4,318.7 L209.5,318.4 L209.6,318.0 L209.7,317.5 L209.9,316.9 L210.1,316.2 L210.3,315.5 L210.6,314.6 L210.9,313.8 L211.3,312.8 L211.7,311.8 L212.1,310.8 L212.6,309.7 L213.1,308.6 L213.6,307.5 L214.2,306.3 L214.8,305.1 L215.4,303.9 L216.1,302.6 L216.8,301.4 L217.6,300.1 L218.3,298.9 L219.1,297.6 L220.0,296.3 L220.9,295.1 L221.8,293.8 L222.7,292.6 L223.7,291.4 L224.7,290.1 L225.7,288.9 L226.8,287.8 L227.8,286.6 L228.9,285.5 L230.1,284.4 L231.2,283.3 L232.4,282.3 L233.7,281.3 L234.9,280.3 L236.2,279.4 L237.4,278.5 L238.7,277.6 L240.1,276.8 L241.4,276.0 L242.8,275.3 L244.2,274.5 L245.6,273.9 L247.0,273.2 L248.4,272.6 L249.9,272.0 L251.4,271.5 L252.9,271.0 L254.4,270.5 L255.9,270.1 L257.4,269.7 L258.9,269.3 L260.5,268.9 L262.0,268.6 L263.6,268.3 L265.2,268.0 L266.7,267.8 L268.3,267.6 L269.9,267.4 L271.5,267.2 L273.1,267.1 L274.7,267.0 L276.3,266.9 L277.9,266.9 L279.5,266.9 L281.1,266.9 L282.7,266.9 L284.3,267.0 L285.9,267.2 L287.5,267.3 L289.0,267.5 L290.6,267.7 L292.2,268.0 L293.7,268.4 L295.3,268.7 L296.8,269.1 L298.3,269.6 L299.8,270.1 L301.3,270.7 L302.8,271.3 L304.3,271.9 L305.8,272.7 L307.2,273.4 L308.6,274.2 L310.0,275.1 L311.4,276.0 L312.8,276.9 L314.1,277.9 L315.5,279.0 L316.8,280.1 L318.0,281.2 L319.3,282.3 L320.5,283.5 L321.8,284.7 L323.0,286.0 L324.1,287.2 L325.3,288.5 L326.4,289.8 L327.4,291.1 L328.5,292.4 L329.5,293.8 L330.5,295.1 L331.5,296.4 L332.4,297.7 L333.3,298.9 L334.2,300.2 L335.1,301.5 L335.9,302.7 L336.6,303.9 L337.4,305.0 L338.1,306.2 L338.8,307.3 L339.4,308.3 L340.0,309.3 L340.6,310.3 L341.1,311.2 L341.6,312.1 L342.1,313.0 L342.5,313.8 L342.9,314.5 L343.3,315.2 L343.6,315.9 L343.9,316.5 L344.1,317.0 L344.3,317.5 L344.5,317.9 L344.6,318.3 L344.7,318.5 L344.8,318.7 L344.8,318.8" fill="none" stroke="#2b2b2b" stroke-width="0.9"/>
<circle cx="236.34" cy="213.29" r="1.1" fill="#5157a6"/>
<circle cx="243.66" cy="221.24" r="1.1" fill="#84c24a"/>
<circle cx="253.68" cy="239.31" r="1.1" fill="#e2252f"/>
<circle cx="276.96" cy="266.77" r="1.1" fill="#2b2b2b"/>
<text x="228.00" y="209.30" font-size="7.6" fill="#5157a6" stroke="#5157a6" stroke-width="0.1" text-anchor="middle" font-weight="normal" >4</text>
<line x1="225.80" y1="203.80" x2="220.80" y2="201.20" stroke="#5157a6" stroke-width="0.7" />
<line x1="226.20" y1="209.00" x2="225.60" y2="213.60" stroke="#5157a6" stroke-width="0.7" />
<text x="226.60" y="226.20" font-size="8.4" fill="#84c24a" stroke="#84c24a" stroke-width="0.1" text-anchor="middle" font-weight="normal" >3</text>
<text x="266.00" y="241.30" font-size="7.2" fill="#e2252f" stroke="#e2252f" stroke-width="0.1" text-anchor="middle" font-weight="normal" >2</text>
<text x="290.30" y="270.70" font-size="7.2" fill="#2b2b2b" stroke="#2b2b2b" stroke-width="0.1" text-anchor="middle" font-weight="normal" >1</text>
<text x="257.1" y="288.9" font-size="7.2" fill="#5157a6" stroke="#5157a6" stroke-width="0.27" letter-spacing="0" font-weight="normal"><tspan>4: MoNbTaWV</tspan><tspan font-size="5.18" dy="2.2">x</tspan></text>
<text x="257.1" y="296.8" font-size="7.2" fill="#84c24a" stroke="#84c24a" stroke-width="0.27" letter-spacing="0" font-weight="normal"><tspan>3: MoNbTaV</tspan><tspan font-size="5.18" dy="2.2">x</tspan></text>
<text x="257.1" y="304.6" font-size="7.2" fill="#e2252f" stroke="#e2252f" stroke-width="0.27" letter-spacing="0" font-weight="normal"><tspan>2: MoNbV</tspan><tspan font-size="5.18" dy="2.2">x</tspan></text>
<text x="257.1" y="312.5" font-size="7.2" fill="#2b2b2b" stroke="#2b2b2b" stroke-width="0.27" letter-spacing="0" font-weight="normal"><tspan>1: MoV</tspan><tspan font-size="5.18" dy="2.2">x</tspan></text>
<text transform="translate(191.00,274.20) rotate(-90)" font-size="8.2" fill="#2a2a2a" stroke="#2a2a2a" stroke-width="0.27">ΔS</text>
<text transform="translate(186.00,263.60) rotate(-90)" font-size="6.1" fill="#2a2a2a" stroke="#2a2a2a" stroke-width="0.27">BCC</text>
<text transform="translate(193.00,263.60) rotate(-90)" font-size="6.8" fill="#2a2a2a" stroke="#2a2a2a" stroke-width="0.27">mix</text>
<text transform="translate(191.00,250.60) rotate(-90)" font-size="8.1" fill="#2a2a2a" stroke="#2a2a2a" stroke-width="0.27">[J/K/mol]</text>
<text x="180.20" y="342.00" font-size="9.6" fill="#111" stroke="#111" stroke-width="0.27" text-anchor="start" font-weight="bold" >(d)</text></svg>
</body></html>
